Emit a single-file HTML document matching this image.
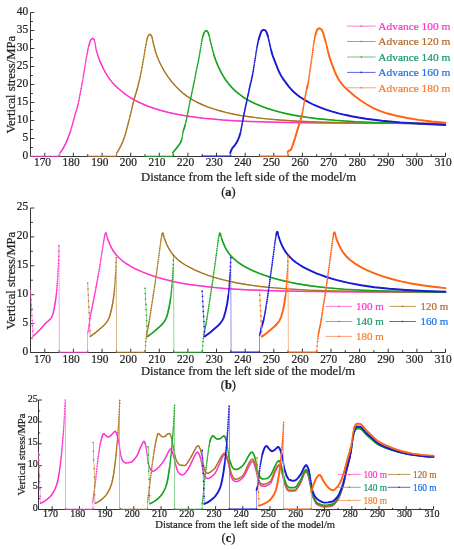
<!DOCTYPE html>
<html lang="en"><head><meta charset="utf-8"><title>Vertical stress figure</title>
<style>html,body{margin:0;padding:0;background:#fff}svg{display:block}</style></head>
<body>
<svg width="454" height="550" viewBox="0 0 454 550" font-family="'Liberation Serif', 'DejaVu Serif', serif">
<style>text{stroke-width:.22px;paint-order:stroke}</style>
<rect width="454" height="550" fill="#fff"/>
<defs>
<clipPath id="ca"><rect x="30.2" y="6.5" width="418" height="150.1"/></clipPath>
<clipPath id="cb"><rect x="30.2" y="202" width="418" height="150.6"/></clipPath>
<clipPath id="cc"><rect x="38.2" y="394" width="398" height="115.6"/></clipPath>
</defs>
<g>
<path d="M30.5,12.5V156.5H445.5M30.5,156.5h3.8M30.5,147.5h2.4M30.5,138.5h3.8M30.5,129.5h2.4M30.5,120.5h3.8M30.5,111.5h2.4M30.5,102.5h3.8M30.5,93.5h2.4M30.5,84.5h3.8M30.5,75.5h2.4M30.5,66.5h3.8M30.5,57.5h2.4M30.5,48.5h3.8M30.5,39.5h2.4M30.5,30.5h3.8M30.5,21.5h2.4M30.5,12.5h3.8M44.8,156.5v-3.8M30.5,156.5v-2.4M73.4,156.5v-3.8M59.1,156.5v-2.4M102.1,156.5v-3.8M87.7,156.5v-2.4M130.7,156.5v-3.8M116.4,156.5v-2.4M159.3,156.5v-3.8M145,156.5v-2.4M187.9,156.5v-3.8M173.6,156.5v-2.4M216.5,156.5v-3.8M202.2,156.5v-2.4M245.2,156.5v-3.8M230.8,156.5v-2.4M273.8,156.5v-3.8M259.5,156.5v-2.4M302.4,156.5v-3.8M288.1,156.5v-2.4M331,156.5v-3.8M316.7,156.5v-2.4M359.6,156.5v-3.8M345.3,156.5v-2.4M388.2,156.5v-3.8M373.9,156.5v-2.4M416.9,156.5v-3.8M402.6,156.5v-2.4M445.5,156.5v-3.8M431.2,156.5v-2.4" fill="none" stroke="#363636" stroke-width="1"/>
<text x="28.1" y="158.5" font-size="11.8" text-anchor="end" fill="#222" stroke="#222" textLength="5.7" lengthAdjust="spacingAndGlyphs">0</text>
<text x="28.1" y="140.5" font-size="11.8" text-anchor="end" fill="#222" stroke="#222" textLength="5.7" lengthAdjust="spacingAndGlyphs">5</text>
<text x="28.1" y="122.5" font-size="11.8" text-anchor="end" fill="#222" stroke="#222" textLength="11.4" lengthAdjust="spacingAndGlyphs">10</text>
<text x="28.1" y="104.5" font-size="11.8" text-anchor="end" fill="#222" stroke="#222" textLength="11.4" lengthAdjust="spacingAndGlyphs">15</text>
<text x="28.1" y="86.5" font-size="11.8" text-anchor="end" fill="#222" stroke="#222" textLength="11.4" lengthAdjust="spacingAndGlyphs">20</text>
<text x="28.1" y="68.5" font-size="11.8" text-anchor="end" fill="#222" stroke="#222" textLength="11.4" lengthAdjust="spacingAndGlyphs">25</text>
<text x="28.1" y="50.5" font-size="11.8" text-anchor="end" fill="#222" stroke="#222" textLength="11.4" lengthAdjust="spacingAndGlyphs">30</text>
<text x="28.1" y="32.5" font-size="11.8" text-anchor="end" fill="#222" stroke="#222" textLength="11.4" lengthAdjust="spacingAndGlyphs">35</text>
<text x="28.1" y="14.5" font-size="11.8" text-anchor="end" fill="#222" stroke="#222" textLength="11.4" lengthAdjust="spacingAndGlyphs">40</text>
<text x="42.5" y="166" font-size="11.8" text-anchor="middle" fill="#222" stroke="#222" textLength="17.1" lengthAdjust="spacingAndGlyphs">170</text>
<text x="71.1" y="166" font-size="11.8" text-anchor="middle" fill="#222" stroke="#222" textLength="17.1" lengthAdjust="spacingAndGlyphs">180</text>
<text x="99.8" y="166" font-size="11.8" text-anchor="middle" fill="#222" stroke="#222" textLength="17.1" lengthAdjust="spacingAndGlyphs">190</text>
<text x="128.4" y="166" font-size="11.8" text-anchor="middle" fill="#222" stroke="#222" textLength="17.1" lengthAdjust="spacingAndGlyphs">200</text>
<text x="157" y="166" font-size="11.8" text-anchor="middle" fill="#222" stroke="#222" textLength="17.1" lengthAdjust="spacingAndGlyphs">210</text>
<text x="185.6" y="166" font-size="11.8" text-anchor="middle" fill="#222" stroke="#222" textLength="17.1" lengthAdjust="spacingAndGlyphs">220</text>
<text x="214.2" y="166" font-size="11.8" text-anchor="middle" fill="#222" stroke="#222" textLength="17.1" lengthAdjust="spacingAndGlyphs">230</text>
<text x="242.8" y="166" font-size="11.8" text-anchor="middle" fill="#222" stroke="#222" textLength="17.1" lengthAdjust="spacingAndGlyphs">240</text>
<text x="271.5" y="166" font-size="11.8" text-anchor="middle" fill="#222" stroke="#222" textLength="17.1" lengthAdjust="spacingAndGlyphs">250</text>
<text x="300.1" y="166" font-size="11.8" text-anchor="middle" fill="#222" stroke="#222" textLength="17.1" lengthAdjust="spacingAndGlyphs">260</text>
<text x="328.7" y="166" font-size="11.8" text-anchor="middle" fill="#222" stroke="#222" textLength="17.1" lengthAdjust="spacingAndGlyphs">270</text>
<text x="357.3" y="166" font-size="11.8" text-anchor="middle" fill="#222" stroke="#222" textLength="17.1" lengthAdjust="spacingAndGlyphs">280</text>
<text x="385.9" y="166" font-size="11.8" text-anchor="middle" fill="#222" stroke="#222" textLength="17.1" lengthAdjust="spacingAndGlyphs">290</text>
<text x="414.6" y="166" font-size="11.8" text-anchor="middle" fill="#222" stroke="#222" textLength="17.1" lengthAdjust="spacingAndGlyphs">300</text>
<text x="443.2" y="166" font-size="11.8" text-anchor="middle" fill="#222" stroke="#222" textLength="17.1" lengthAdjust="spacingAndGlyphs">310</text>
<g clip-path="url(#ca)">
<path d="M30.5,156.5 59.8,156.5 60,152.9 61.1,151.4 62.6,149.3 65.1,144.6 67.1,140.2 69.4,134.2 71.7,127.1 77.2,107.7 78.6,101.8 81.4,87 83.2,77.3 86.3,58.1 88.3,47.7 89.5,43.5 90.6,40.3 90.9,39.8 91.7,38.9 92.6,38.5 93.5,39 94,39.6 94.3,40.2 94.9,42.7 96,49 97.5,54.3 99.8,60.7 102.6,67.2 105.2,72.1 108.6,77.6 111.8,81.9 115.2,85.6 120.1,90 123.5,92.8 126.7,95.2 131.5,98.4 137.3,101.5 143.8,104.6 151.3,107.5 159,109.9 167.6,112.2 175.6,114 184.2,115.6 193.3,117 203.1,118.2 214.2,119.3 225.1,120.1 237.7,120.9 251.2,121.5 281.2,122.4 319,123 368.8,123.3 445.5,123.4" fill="none" stroke="#ff74da" stroke-width="0.7" stroke-linejoin="round"/>
<path d="M30.5,156.5 59.8,156.5M60,152.9 61.1,151.4 62.6,149.3 65.4,144.1 68,138.1 70.6,130.9M89.7,42.6 90.3,41 90.9,39.8 92,38.7 92.6,38.5 93.2,38.7 94,39.6 94.3,40.2M97.8,55.2 100,61.4 103.2,68.4 105.8,73.1 109.5,78.9 112.4,82.6 115.5,85.9 119.5,89.5 125.5,94.3 130.1,97.5 135.2,100.5 141,103.3 147.3,106 153.9,108.3 161,110.5 168.7,112.5 177,114.3 185.3,115.8 193.9,117 203.1,118.2 212.8,119.1 222.8,120 234,120.7 259.2,121.8 288.1,122.6 325,123 373.1,123.3 445.5,123.4" fill="none" stroke="#ff33cc" stroke-width="1.5" stroke-linejoin="round" stroke-linecap="round"/>
<path d="M70.9,130h0M71.1,129.1h0M71.4,128.1h0M71.7,127.1h0M72,126.1h0M72.3,125.1h0M72.6,124.1h0M72.9,123h0M73.1,122h0M73.4,120.9h0M73.7,119.9h0M74,118.8h0M74.3,117.7h0M74.6,116.7h0M74.9,115.6h0M75.1,114.6h0M75.4,113.6h0M75.7,112.6h0M76,111.6h0M76.3,110.7h0M76.6,109.7h0M76.9,108.7h0M77.2,107.7h0M77.4,106.6h0M77.7,105.5h0M78,104.4h0M78.3,103.1h0M78.6,101.8h0M78.9,100.4h0M79.2,99h0M79.4,97.5h0M79.7,96h0M80,94.5h0M80.3,93.1h0M80.6,91.6h0M80.9,90.1h0M81.2,88.6h0M81.4,87h0M81.7,85.5h0M82,83.9h0M82.3,82.3h0M82.6,80.7h0M82.9,79h0M83.2,77.3h0M83.4,75.6h0M83.7,73.9h0M84,72.1h0M84.3,70.4h0M84.6,68.7h0M84.9,66.9h0M85.2,65.1h0M85.5,63.3h0M85.7,61.6h0M86,59.8h0M86.3,58.1h0M86.6,56.5h0M86.9,54.9h0M87.2,53.4h0M87.5,51.9h0M87.7,50.4h0M88,49h0M88.3,47.7h0M88.6,46.5h0M88.9,45.4h0M89.2,44.4h0M89.5,43.5h0M94.6,41.3h0M94.9,42.7h0M95.2,44.3h0M95.5,45.9h0M95.8,47.6h0M96,49h0M96.3,50.2h0M96.6,51.3h0M96.9,52.3h0M97.2,53.3h0M97.5,54.3h0" fill="none" stroke="#ff33cc" stroke-width="1.6" stroke-linecap="round"/>
<path d="M87.7,156.5 116.6,156.5 116.8,152.9 118.2,150.7 119.9,147.6 122.5,142.2 124.2,137.8 126.2,131.1 129.4,119 133.7,101 137.1,89.4 139.4,80.3 141.7,69.1 143.7,58 145.4,47.5 147.1,38.9 147.7,37 148.3,35.9 149.1,34.6 149.7,34.3 150,34.3 150.6,34.7 151.7,36.4 152.3,38.4 153.7,44.9 156,53.2 157.7,58 160,63.2 163.2,69.1 166.9,75.1 170.6,80.4 174.3,84.9 178.3,89 182.9,93.1 187.2,96.4 192.1,99.5 197.5,102.5 203.5,105.2 209.8,107.7 216.7,109.9 223.8,111.9 231.6,113.7 239.9,115.3 248.5,116.7 258.2,118 268.2,119 278.8,120 290.8,120.8 303.4,121.4 316.9,122 348.6,122.8 389,123.2 445.4,123.5" fill="none" stroke="#c29c58" stroke-width="0.7" stroke-linejoin="round"/>
<path d="M87.7,156.5 116.6,156.5M116.8,152.9 118.8,149.7 120.8,146 122.8,141.6 124.2,137.8M147.7,37 148.8,35 149.4,34.4 149.7,34.3 150,34.3 150.6,34.7 151.7,36.4M156.6,54.9 158.6,60 161.4,66 164.3,71.1 168,76.8 171.5,81.5 175.2,85.8 178.9,89.6 183.2,93.4 187.2,96.4 191.8,99.3 196.6,102 201.8,104.5 207.5,106.8 213.5,108.9 219.8,110.8 226.7,112.6 233.9,114.2 241.3,115.6 249.3,116.8 257.9,117.9 266.5,118.9 276.8,119.8 287.1,120.5 298.8,121.2 324,122.2 354.4,122.9 392.7,123.3 445.4,123.5" fill="none" stroke="#a9741c" stroke-width="1.4" stroke-linejoin="round" stroke-linecap="round"/>
<path d="M124.5,137h0M124.8,136.1h0M125.1,135.1h0M125.4,134.2h0M125.7,133.2h0M125.9,132.1h0M126.2,131.1h0M126.5,130h0M126.8,128.9h0M127.1,127.8h0M127.4,126.7h0M127.7,125.6h0M128,124.5h0M128.2,123.4h0M128.5,122.3h0M128.8,121.2h0M129.1,120.1h0M129.4,119h0M129.7,117.8h0M130,116.6h0M130.2,115.4h0M130.5,114.2h0M130.8,113h0M131.1,111.8h0M131.4,110.5h0M131.7,109.3h0M132,108.1h0M132.2,106.8h0M132.5,105.6h0M132.8,104.4h0M133.1,103.3h0M133.4,102.1h0M133.7,101h0M134,99.9h0M134.2,98.8h0M134.5,97.8h0M134.8,96.9h0M135.1,95.9h0M135.4,95h0M135.7,94.1h0M136,93.2h0M136.3,92.3h0M136.5,91.4h0M136.8,90.4h0M137.1,89.4h0M137.4,88.3h0M137.7,87.2h0M138,86.1h0M138.3,85h0M138.5,83.9h0M138.8,82.7h0M139.1,81.5h0M139.4,80.3h0M139.7,79h0M140,77.7h0M140.3,76.4h0M140.5,75h0M140.8,73.6h0M141.1,72.1h0M141.4,70.6h0M141.7,69.1h0M142,67.5h0M142.3,66h0M142.6,64.4h0M142.8,62.8h0M143.1,61.2h0M143.4,59.6h0M143.7,58h0M144,56.2h0M144.3,54.5h0M144.6,52.7h0M144.8,50.9h0M145.1,49.2h0M145.4,47.5h0M145.7,46h0M146,44.6h0M146.3,43.1h0M146.6,41.6h0M146.8,40.2h0M147.1,38.9h0M147.4,37.9h0M152,37.3h0M152.3,38.4h0M152.6,39.7h0M152.9,41h0M153.1,42.4h0M153.4,43.7h0M153.7,44.9h0M154,46h0M154.3,47h0M154.6,48.1h0M154.9,49.2h0M155.1,50.2h0M155.4,51.2h0M155.7,52.2h0M156,53.2h0M156.3,54.1h0" fill="none" stroke="#a9741c" stroke-width="1.6" stroke-linecap="round"/>
<path d="M145,156.5 172.6,156.5 172.7,152.9 173.9,151.2 176.2,148.6 178.8,145.3 180.5,142.6 181.6,139.9 183,132 185.3,124.3 187.1,116.5 189.9,101.8 194.5,80.5 196.5,69.7 198.5,60.4 202.2,38.9 203.1,35.7 203.9,33.2 205.1,31.5 205.7,30.9 206.2,30.6 206.8,30.8 207.4,31.4 208.2,32.8 208.5,33.5 212,47.5 213.7,53.9 215.1,58.7 216.5,62.5 218.5,67.2 221.4,72.9 224,77.3 226.6,81.2 229.7,85.2 233.4,89.2 237.1,92.6 241.2,95.7 245.4,98.5 250.6,101.4 255.7,103.9 261.5,106.3 267.8,108.6 274.6,110.7 281.8,112.6 289.5,114.3 297.8,115.9 306.7,117.3 316.1,118.5 326.2,119.6 336.5,120.5 347.9,121.2 373.7,122.5 405.2,123.4 445.2,124" fill="none" stroke="#62c668" stroke-width="0.7" stroke-linejoin="round"/>
<path d="M145,156.5 172.6,156.5M172.7,152.9 173.9,151.2 176.2,148.6 179.3,144.5 180.5,142.6 181.6,139.9M183.6,129.9 184.8,126.4M203.1,35.7 203.7,33.9 204.2,32.6 205.4,31.1 206.2,30.6 206.5,30.7 207.1,31.1 207.9,32.2 208.2,32.8 208.8,34.5M214.2,55.9 216,61 218,65.9 220.5,71.2 223.4,76.4 225.7,80 228.6,83.8 231.7,87.4 234.9,90.6 238.6,93.7 242.6,96.7 246.9,99.4 251.2,101.7 256,104 261.5,106.3 267.2,108.4 273.2,110.3 279.5,112 286.1,113.6 293.2,115.1 300.7,116.4 308.4,117.5 316.7,118.6 335,120.3 355.6,121.7 380,122.7 408.9,123.5 445.2,124" fill="none" stroke="#17a31d" stroke-width="1.65" stroke-linejoin="round" stroke-linecap="round"/>
<path d="M181.9,138.7h0M182.2,137.1h0M182.5,135.3h0M182.8,133.5h0M183,132h0M183.3,130.9h0M185,125.4h0M185.3,124.3h0M185.6,123.1h0M185.9,121.8h0M186.2,120.6h0M186.5,119.2h0M186.8,117.9h0M187.1,116.5h0M187.3,115.1h0M187.6,113.8h0M187.9,112.3h0M188.2,110.9h0M188.5,109.4h0M188.8,107.9h0M189.1,106.3h0M189.3,104.7h0M189.6,103.2h0M189.9,101.8h0M190.2,100.4h0M190.5,99.1h0M190.8,97.8h0M191.1,96.6h0M191.3,95.2h0M191.6,93.9h0M191.9,92.5h0M192.2,91.1h0M192.5,89.7h0M192.8,88.3h0M193.1,87h0M193.4,85.7h0M193.6,84.4h0M193.9,83.1h0M194.2,81.8h0M194.5,80.5h0M194.8,79.1h0M195.1,77.6h0M195.4,76.1h0M195.6,74.4h0M195.9,72.8h0M196.2,71.2h0M196.5,69.7h0M196.8,68.3h0M197.1,67h0M197.4,65.8h0M197.6,64.5h0M197.9,63.2h0M198.2,61.8h0M198.5,60.4h0M198.8,58.9h0M199.1,57.3h0M199.4,55.8h0M199.6,54.2h0M199.9,52.6h0M200.2,50.9h0M200.5,49.1h0M200.8,47.2h0M201.1,45.3h0M201.4,43.5h0M201.7,41.7h0M201.9,40.2h0M202.2,38.9h0M202.5,37.8h0M202.8,36.7h0M209.1,35.6h0M209.4,36.8h0M209.7,38h0M210,39.3h0M210.2,40.4h0M210.5,41.5h0M210.8,42.7h0M211.1,43.9h0M211.4,45.1h0M211.7,46.3h0M212,47.5h0M212.2,48.6h0M212.5,49.7h0M212.8,50.7h0M213.1,51.8h0M213.4,52.9h0M213.7,53.9h0M214,54.9h0" fill="none" stroke="#17a31d" stroke-width="1.6" stroke-linecap="round"/>
<path d="M202.2,156.5 230.1,156.5 230.3,152.9 231.4,149.9 232.6,147.9 235.1,144.8 237.4,141.1 238.9,137.9 240.3,133.2 240.9,130.7 244.6,111.2 249.4,88.4 252.3,75.9 253.5,69.4 256.9,47.8 258,42.1 259.5,36.6 261.2,31.8 261.5,31.3 262,30.7 262.9,30.1 263.5,29.9 264.3,30 265.5,30.5 266.1,31.2 266.6,32.4 268.1,36.6 271.2,50.4 272.9,56.3 274.6,61 278.4,70.3 279.8,73.4 281.8,76.9 284.4,80.6 288.7,86.4 291,89.1 293.5,91.7 297,94.7 300.4,97.3 304.7,100 309,102.4 314.1,104.9 319.6,107.2 325.3,109.3 331.6,111.3 338.2,113.2 345.1,114.9 352.5,116.4 360.2,117.8 368.5,119.1 377.4,120.2 387.1,121.3 396.6,122.1 418.9,123.7 445.3,125" fill="none" stroke="#6262e8" stroke-width="0.7" stroke-linejoin="round"/>
<path d="M202.2,156.5 230.1,156.5M230.3,152.9 231.4,149.9 232,148.8 232.8,147.6 235.1,144.8 236.6,142.6 237.7,140.5 239.1,137.1 240.3,133.2M258.6,39.7 259.5,36.6 261.2,31.8 261.8,30.9 262.6,30.2 263.2,30 263.8,29.9 264.3,30 265.2,30.4 265.8,30.8 266.6,32.4 268.1,36.6M271.2,50.4 272.3,54.5 273.8,58.7 277.5,68.2 279.5,72.8 280.9,75.4 282.9,78.6 286.4,83.4 289.2,87.1 291.5,89.7 294.1,92.2 297.3,94.9 300.4,97.3 304.4,99.8 308.1,101.9 312.1,104 316.4,105.9 321.3,107.9 326.7,109.8 332.5,111.6 338.5,113.3 344.8,114.8 351.4,116.2 358.5,117.5 366,118.7 382,120.7 400,122.4 420.9,123.8 445.3,125" fill="none" stroke="#1a1ad6" stroke-width="1.9" stroke-linejoin="round" stroke-linecap="round"/>
<path d="M240.6,132h0M240.9,130.7h0M241.1,129.2h0M241.4,127.7h0M241.7,126.1h0M242,124.6h0M242.3,123.1h0M242.6,121.5h0M242.9,119.9h0M243.1,118.4h0M243.4,116.9h0M243.7,115.4h0M244,113.9h0M244.3,112.5h0M244.6,111.2h0M244.9,109.8h0M245.2,108.5h0M245.4,107.2h0M245.7,105.8h0M246,104.5h0M246.3,103.2h0M246.6,101.9h0M246.9,100.6h0M247.2,99.3h0M247.4,98h0M247.7,96.6h0M248,95.2h0M248.3,93.9h0M248.6,92.5h0M248.9,91.1h0M249.2,89.8h0M249.4,88.4h0M249.7,87.2h0M250,85.9h0M250.3,84.7h0M250.6,83.5h0M250.9,82.3h0M251.2,81.1h0M251.5,79.9h0M251.7,78.6h0M252,77.3h0M252.3,75.9h0M252.6,74.4h0M252.9,72.8h0M253.2,71.2h0M253.5,69.4h0M253.7,67.6h0M254,65.8h0M254.3,64h0M254.6,62.1h0M254.9,60.3h0M255.2,58.5h0M255.5,56.8h0M255.7,55h0M256,53.1h0M256.3,51.3h0M256.6,49.5h0M256.9,47.8h0M257.2,46.2h0M257.5,44.7h0M257.7,43.4h0M258,42.1h0M258.3,40.9h0M268.3,37.8h0M268.6,39h0M268.9,40.4h0M269.2,41.8h0M269.5,43.2h0M269.8,44.4h0M270.1,45.6h0M270.3,46.8h0M270.6,48.1h0M270.9,49.2h0" fill="none" stroke="#1a1ad6" stroke-width="1.7" stroke-linecap="round"/>
<path d="M259.5,156.5 287.5,156.5 287.7,152.9 287.9,151.5 288.5,151 290.5,150.2 291.1,149.4 293.1,144.1 294.8,138.9 298,128.1 300.5,120.4 302,114.9 302.8,110.8 304.5,100.3 306,92.6 308,83.7 308.5,80.7 310.5,67.1 313.7,44 314.8,37.4 315.7,33.9 316.8,30.4 317.4,29.4 318.3,28.7 318.8,28.4 319.4,28.4 320,28.5 320.8,29 321.4,29.5 322.3,31 323.4,33.7 325.1,39.7 328.9,54.9 330.3,59.7 331.7,63.8 334.3,70.4 336,74.4 337.7,77.8 339.2,80.2 340.9,82.8 342.6,85 344.3,86.9 346,88.6 353.5,95 357.2,98 361.2,100.9 364.9,103.3 368.9,105.7 372.7,107.7 376.1,109.4 380.1,111.1 383.5,112.3 387.5,113.5 393.5,115.1 399.8,116.6 406.4,117.9 413.3,119.1 420.4,120.2 428.2,121.1 445.3,122.8" fill="none" stroke="#ff9860" stroke-width="0.7" stroke-linejoin="round"/>
<path d="M259.5,156.5 287.5,156.5M287.9,151.5 288.5,151 290.5,150.2 291.1,149.4 291.7,148.1 294.8,138.9 298,128.1 300.2,121.3 301.7,116.1M306.8,88.5 307.7,85M315.4,34.9 316.6,31.1 317.1,29.8 317.4,29.4 318.3,28.7 319.1,28.3 320,28.5 321.1,29.2 322,30.4 323.4,33.7 325.7,41.9M326.9,46.7 327.4,49.1M328.3,52.6 329.4,56.9 330.9,61.4 334.9,71.8 336.3,75 337.7,77.8 339.5,80.7 341.2,83.2 343.2,85.7 345.2,87.8 354.3,95.8 360.3,100.3 366.9,104.5 373.8,108.3 380.4,111.2 386.7,113.3 396.4,115.8 407,118 418.7,119.9 431.6,121.5 445.3,122.8" fill="none" stroke="#ff6414" stroke-width="1.95" stroke-linejoin="round" stroke-linecap="round"/>
<path d="M287.7,152.9h0M302,114.9h0M302.2,113.7h0M302.5,112.3h0M302.8,110.8h0M303.1,109.2h0M303.4,107.4h0M303.7,105.6h0M304,103.8h0M304.3,102h0M304.5,100.3h0M304.8,98.7h0M305.1,97.1h0M305.4,95.6h0M305.7,94h0M306,92.6h0M306.3,91.1h0M306.5,89.7h0M308,83.7h0M308.3,82.3h0M308.5,80.7h0M308.8,79h0M309.1,77.1h0M309.4,75.2h0M309.7,73.1h0M310,71.1h0M310.3,69.1h0M310.5,67.1h0M310.8,65h0M311.1,62.9h0M311.4,60.8h0M311.7,58.7h0M312,56.5h0M312.3,54.4h0M312.6,52.3h0M312.8,50.2h0M313.1,48.1h0M313.4,46h0M313.7,44h0M314,42.2h0M314.3,40.5h0M314.6,38.9h0M314.8,37.4h0M315.1,36.1h0M326,43.1h0M326.3,44.3h0M326.6,45.5h0M327.7,50.2h0M328,51.4h0" fill="none" stroke="#ff6414" stroke-width="1.75" stroke-linecap="round"/>
</g>
<text x="141" y="181.3" font-size="11.8" text-anchor="start" fill="#222" stroke="#222" textLength="215" lengthAdjust="spacingAndGlyphs">Distance from the left side of the model/m</text>
<text transform="translate(14.9,133.6) rotate(-90)" font-size="11.8" fill="#222" stroke="#222" textLength="97.6" lengthAdjust="spacingAndGlyphs">Vertical stress/MPa</text>
<text x="228.4" y="196" font-size="12.4" text-anchor="middle" fill="#222" stroke="#222">(<tspan font-weight="bold">a</tspan>)</text>
<path d="M347.1,26.1H375.6" stroke="#ff5cc4" stroke-width=".8"/>
<path d="M361.3,26.1h0" stroke="#ff33cc" stroke-width="1.6" stroke-linecap="round"/>
<text x="378.3" y="29.8" font-size="11" text-anchor="start" fill="#ff33cc" stroke="#ff33cc" textLength="72.1" lengthAdjust="spacingAndGlyphs">Advance 100 m</text>
<path d="M347.1,41.5H375.6" stroke="#a8842f" stroke-width=".8"/>
<path d="M361.3,41.5h0" stroke="#a9741c" stroke-width="1.6" stroke-linecap="round"/>
<text x="378.3" y="45.2" font-size="11" text-anchor="start" fill="#b56a2c" stroke="#b56a2c" textLength="72.1" lengthAdjust="spacingAndGlyphs">Advance 120 m</text>
<path d="M347.1,57H375.6" stroke="#4fb455" stroke-width=".8"/>
<path d="M361.3,57h0" stroke="#17a31d" stroke-width="1.6" stroke-linecap="round"/>
<text x="378.3" y="60.7" font-size="11" text-anchor="start" fill="#189a6c" stroke="#189a6c" textLength="72.1" lengthAdjust="spacingAndGlyphs">Advance 140 m</text>
<path d="M347.1,72.4H375.6" stroke="#3a3ade" stroke-width=".8"/>
<path d="M361.3,72.4h0" stroke="#1a1ad6" stroke-width="1.6" stroke-linecap="round"/>
<text x="378.3" y="76.1" font-size="11" text-anchor="start" fill="#1b74e8" stroke="#1b74e8" textLength="72.1" lengthAdjust="spacingAndGlyphs">Advance 160 m</text>
<path d="M347.1,87.8H375.6" stroke="#ff8650" stroke-width=".8"/>
<path d="M361.3,87.8h0" stroke="#ff6414" stroke-width="1.6" stroke-linecap="round"/>
<text x="378.3" y="91.5" font-size="11" text-anchor="start" fill="#ff7a22" stroke="#ff7a22" textLength="72.1" lengthAdjust="spacingAndGlyphs">Advance 180 m</text>
</g>
<g>
<path d="M30.5,208V352.5H445.5M30.5,352.5h3.8M30.5,338.1h2.4M30.5,323.6h3.8M30.5,309.1h2.4M30.5,294.7h3.8M30.5,280.2h2.4M30.5,265.8h3.8M30.5,251.3h2.4M30.5,236.9h3.8M30.5,222.4h2.4M30.5,208h3.8M44.8,352.5v-3.8M30.5,352.5v-2.4M73.4,352.5v-3.8M59.1,352.5v-2.4M102.1,352.5v-3.8M87.7,352.5v-2.4M130.7,352.5v-3.8M116.4,352.5v-2.4M159.3,352.5v-3.8M145,352.5v-2.4M187.9,352.5v-3.8M173.6,352.5v-2.4M216.5,352.5v-3.8M202.2,352.5v-2.4M245.2,352.5v-3.8M230.8,352.5v-2.4M273.8,352.5v-3.8M259.5,352.5v-2.4M302.4,352.5v-3.8M288.1,352.5v-2.4M331,352.5v-3.8M316.7,352.5v-2.4M359.6,352.5v-3.8M345.3,352.5v-2.4M388.2,352.5v-3.8M373.9,352.5v-2.4M416.9,352.5v-3.8M402.6,352.5v-2.4M445.5,352.5v-3.8M431.2,352.5v-2.4" fill="none" stroke="#363636" stroke-width="1"/>
<text x="28.1" y="354.5" font-size="11.8" text-anchor="end" fill="#222" stroke="#222" textLength="5.7" lengthAdjust="spacingAndGlyphs">0</text>
<text x="28.1" y="325.6" font-size="11.8" text-anchor="end" fill="#222" stroke="#222" textLength="5.7" lengthAdjust="spacingAndGlyphs">5</text>
<text x="28.1" y="296.7" font-size="11.8" text-anchor="end" fill="#222" stroke="#222" textLength="11.4" lengthAdjust="spacingAndGlyphs">10</text>
<text x="28.1" y="267.8" font-size="11.8" text-anchor="end" fill="#222" stroke="#222" textLength="11.4" lengthAdjust="spacingAndGlyphs">15</text>
<text x="28.1" y="238.9" font-size="11.8" text-anchor="end" fill="#222" stroke="#222" textLength="11.4" lengthAdjust="spacingAndGlyphs">20</text>
<text x="28.1" y="210" font-size="11.8" text-anchor="end" fill="#222" stroke="#222" textLength="11.4" lengthAdjust="spacingAndGlyphs">25</text>
<text x="42.5" y="363" font-size="11.8" text-anchor="middle" fill="#222" stroke="#222" textLength="17.1" lengthAdjust="spacingAndGlyphs">170</text>
<text x="71.1" y="363" font-size="11.8" text-anchor="middle" fill="#222" stroke="#222" textLength="17.1" lengthAdjust="spacingAndGlyphs">180</text>
<text x="99.8" y="363" font-size="11.8" text-anchor="middle" fill="#222" stroke="#222" textLength="17.1" lengthAdjust="spacingAndGlyphs">190</text>
<text x="128.4" y="363" font-size="11.8" text-anchor="middle" fill="#222" stroke="#222" textLength="17.1" lengthAdjust="spacingAndGlyphs">200</text>
<text x="157" y="363" font-size="11.8" text-anchor="middle" fill="#222" stroke="#222" textLength="17.1" lengthAdjust="spacingAndGlyphs">210</text>
<text x="185.6" y="363" font-size="11.8" text-anchor="middle" fill="#222" stroke="#222" textLength="17.1" lengthAdjust="spacingAndGlyphs">220</text>
<text x="214.2" y="363" font-size="11.8" text-anchor="middle" fill="#222" stroke="#222" textLength="17.1" lengthAdjust="spacingAndGlyphs">230</text>
<text x="242.8" y="363" font-size="11.8" text-anchor="middle" fill="#222" stroke="#222" textLength="17.1" lengthAdjust="spacingAndGlyphs">240</text>
<text x="271.5" y="363" font-size="11.8" text-anchor="middle" fill="#222" stroke="#222" textLength="17.1" lengthAdjust="spacingAndGlyphs">250</text>
<text x="300.1" y="363" font-size="11.8" text-anchor="middle" fill="#222" stroke="#222" textLength="17.1" lengthAdjust="spacingAndGlyphs">260</text>
<text x="328.7" y="363" font-size="11.8" text-anchor="middle" fill="#222" stroke="#222" textLength="17.1" lengthAdjust="spacingAndGlyphs">270</text>
<text x="357.3" y="363" font-size="11.8" text-anchor="middle" fill="#222" stroke="#222" textLength="17.1" lengthAdjust="spacingAndGlyphs">280</text>
<text x="385.9" y="363" font-size="11.8" text-anchor="middle" fill="#222" stroke="#222" textLength="17.1" lengthAdjust="spacingAndGlyphs">290</text>
<text x="414.6" y="363" font-size="11.8" text-anchor="middle" fill="#222" stroke="#222" textLength="17.1" lengthAdjust="spacingAndGlyphs">300</text>
<text x="443.2" y="363" font-size="11.8" text-anchor="middle" fill="#222" stroke="#222" textLength="17.1" lengthAdjust="spacingAndGlyphs">310</text>
<g clip-path="url(#cb)">
<path d="M30.5,289.5 33,336.3 36.3,333.2 39.9,329.7 46.1,322.7 50,319.4 51.6,317.4 52.1,316.3 53,313.7 54.1,308.9 55.4,301.4 56.4,293.5 57.4,281.3 58.3,266.2 58.7,256.4 59,245.6 59.4,352.5 87.5,352.5 87.5,332.3 88.3,330.2 90.9,313.3 94.3,296.4 98,276.5 99.8,266.4 104.1,238.9 105.2,234 105.5,233.2 105.8,232.9 106.1,233.2 106.3,233.9 107.5,238.5 109.8,244.3 111.8,248.5 113.8,251.7 116.4,255.1 119.2,258.1 122.7,261.1 126.7,263.9 131.8,266.9 137.8,269.9 144.7,272.9 151.8,275.5 159.3,277.8 167.3,280 175.9,282 184.8,283.7 192.8,285 201.4,286.1 210.2,287.1 220,288 230.3,288.8 241.4,289.5 266.6,290.6 295.2,291.3 331,291.7 377.4,292 445.5,292.1" fill="none" stroke="#ff74da" stroke-width="0.7" stroke-linejoin="round"/>
<path d="M33,336.3 36.3,333.2 39.9,329.7 46.1,322.7 50,319.4 51.4,317.6 52.3,315.9 53.3,312.6 54.3,308.2 55.1,303.3M59.4,352.5 87.7,352.5M105.2,234 105.5,233.2 105.8,232.9 106.1,233.2 106.3,233.9M107.5,238.5 109.8,244.3 111.5,247.9 113.5,251.3 116.1,254.8 118.9,257.8 122.4,260.8 126.1,263.5 130.7,266.3 136.4,269.3 142.7,272.1 149.6,274.7 156.7,277.1 164.2,279.2 172.2,281.2 180.5,282.9 189.3,284.4 197.4,285.6 205.7,286.6 214.5,287.6 224.3,288.4 245.4,289.7 270.3,290.7 298.7,291.3 333.9,291.7 379.4,292 445.5,292.1" fill="none" stroke="#ff33cc" stroke-width="1.5" stroke-linejoin="round" stroke-linecap="round"/>
<path d="M30.5,289.5h0M30.8,294.7h0M31.1,299.9h0M31.3,305.1h0M31.6,310.3h0M31.9,315.5h0M32.2,320.7h0M32.4,325.9h0M32.7,331.1h0M55.3,302.4h0M55.4,301.4h0M55.6,300.4h0M55.7,299.4h0M55.9,298.3h0M56,297.2h0M56.1,296h0M56.3,294.8h0M56.4,293.5h0M56.6,292.1h0M56.7,290.6h0M56.9,289h0M57,287.2h0M57.1,285.4h0M57.3,283.4h0M57.4,281.3h0M57.6,279h0M57.7,276.4h0M57.9,273.8h0M58,271.2h0M58.1,268.7h0M58.3,266.2h0M58.4,263.5h0M58.6,260.4h0M58.7,256.4h0M58.9,251.3h0M59,245.6h0M88,332.3h0M88.3,330.2h0M88.6,328.1h0M88.9,326.1h0M89.2,324.2h0M89.5,322.2h0M89.7,320.3h0M90,318.4h0M90.3,316.6h0M90.6,314.9h0M90.9,313.3h0M91.2,311.8h0M91.5,310.3h0M91.7,308.9h0M92,307.5h0M92.3,306.1h0M92.6,304.8h0M92.9,303.4h0M93.2,302.1h0M93.5,300.7h0M93.8,299.3h0M94,297.9h0M94.3,296.4h0M94.6,294.9h0M94.9,293.5h0M95.2,292h0M95.5,290.5h0M95.8,288.9h0M96,287.4h0M96.3,285.9h0M96.6,284.4h0M96.9,282.8h0M97.2,281.2h0M97.5,279.7h0M97.8,278.1h0M98,276.5h0M98.3,274.8h0M98.6,273.2h0M98.9,271.5h0M99.2,269.8h0M99.5,268.1h0M99.8,266.4h0M100,264.5h0M100.3,262.7h0M100.6,260.8h0M100.9,258.9h0M101.2,257.1h0M101.5,255.2h0M101.8,253.3h0M102.1,251.5h0M102.3,249.7h0M102.6,247.9h0M102.9,246.1h0M103.2,244.2h0M103.5,242.4h0M103.8,240.6h0M104.1,238.9h0M104.3,237.5h0M104.6,236.3h0M104.9,235.1h0M106.6,235h0M106.9,236.3h0M107.2,237.5h0" fill="none" stroke="#ff33cc" stroke-width="1.6" stroke-linecap="round"/>
<path d="M87.7,283.1 90.2,336.6 95.5,332.6 102.5,326.7 104.5,324.8 106.2,322.8 107.5,320.9 108.7,318.8 109.5,316.6 110.5,313.2 112.2,305.8 113.7,296.9 114.7,287.1 115.8,270 116.2,257.7 116.6,352.5 145,352.5 145.2,350.8 145.8,341.6 146.4,336.3 149.5,319.5 153.8,291.6 156.7,272.1 161.3,238.2 161.9,235.2 162.4,233.2 162.7,232.9 163,233.1 163.3,233.9 164.4,238.5 165.9,242.3 167.9,246.8 170.2,250.9 172.5,254.1 175,257 178.2,259.9 181.6,262.6 186.2,265.5 191.3,268.3 197.4,271.1 203.7,273.7 210.2,276 217.4,278.2 224.8,280.2 232.8,282 240.3,283.5 248,284.8 256,285.9 264.6,286.9 273.8,287.9 283.5,288.6 305.3,289.9 329.9,290.9 359.3,291.5 396.3,291.9 445.5,292.1" fill="none" stroke="#c29c58" stroke-width="0.7" stroke-linejoin="round"/>
<path d="M90.2,336.6 95.5,332.6 102.5,326.7 105.1,324.1 107.1,321.6 108.5,319.1 109.7,316.2 111.4,309.8 112.8,302.7M116.6,352.5 145,352.5M162.4,233.2 162.7,232.9 163,233.1 163.3,233.9M164.4,238.5 166.7,244.3 168.2,247.4 170.2,250.9 172.5,254.1 175,257 177.9,259.7 181.3,262.4 185.3,265 190.2,267.7 195.6,270.4 201.6,272.9 208.2,275.4 215.1,277.6 222.3,279.6 229.7,281.4 237.4,283 244.6,284.2 252.3,285.4 260.3,286.5 268.9,287.4 287.5,288.9 308.7,290.1 333,290.9 361.9,291.5 397.7,291.9 445.5,292.1" fill="none" stroke="#a9741c" stroke-width="1.4" stroke-linejoin="round" stroke-linecap="round"/>
<path d="M87.7,283.1h0M88,289.1h0M88.3,295h0M88.6,301h0M88.8,306.9h0M89.1,312.8h0M89.4,318.8h0M89.7,324.7h0M90,330.7h0M113,301.8h0M113.1,301h0M113.2,300h0M113.4,299h0M113.5,298h0M113.7,296.9h0M113.8,295.8h0M114,294.6h0M114.1,293.3h0M114.2,291.8h0M114.4,290.3h0M114.5,288.7h0M114.7,287.1h0M114.8,285.2h0M115,283.2h0M115.1,281.1h0M115.2,278.9h0M115.4,276.9h0M115.5,274.9h0M115.7,272.6h0M115.8,270h0M116,266.7h0M116.1,262.5h0M116.2,257.7h0M145.2,350.8h0M145.5,345.8h0M145.8,341.6h0M146.1,338.5h0M146.4,336.3h0M146.6,334.5h0M146.9,332.9h0M147.2,331.4h0M147.5,329.9h0M147.8,328.5h0M148.1,327.2h0M148.4,325.9h0M148.7,324.4h0M148.9,322.9h0M149.2,321.2h0M149.5,319.5h0M149.8,317.8h0M150.1,316h0M150.4,314.1h0M150.7,312.3h0M150.9,310.4h0M151.2,308.5h0M151.5,306.6h0M151.8,304.7h0M152.1,302.8h0M152.4,301h0M152.7,299.1h0M153,297.2h0M153.2,295.4h0M153.5,293.5h0M153.8,291.6h0M154.1,289.7h0M154.4,287.8h0M154.7,285.9h0M155,284h0M155.3,282.1h0M155.5,280.1h0M155.8,278.1h0M156.1,276.1h0M156.4,274.1h0M156.7,272.1h0M157,270h0M157.3,267.9h0M157.5,265.8h0M157.8,263.7h0M158.1,261.6h0M158.4,259.5h0M158.7,257.3h0M159,255.2h0M159.3,253h0M159.6,250.7h0M159.8,248.4h0M160.1,246.2h0M160.4,244h0M160.7,242h0M161,240.1h0M161.3,238.2h0M161.6,236.5h0M161.9,235.2h0M162.1,234.1h0M163.6,235h0M163.9,236.3h0M164.1,237.5h0" fill="none" stroke="#a9741c" stroke-width="1.6" stroke-linecap="round"/>
<path d="M145,288.3 147.5,336.6 150.9,334.1 154.6,331.1 160.2,326.3 162.6,323.8 163.9,322.2 164.9,320.7 165.8,319.1 166.6,317.1 168.6,309.5 170.2,301.3 171.2,293.7 172.1,284 173.1,268.2 173.5,255.4 173.9,352.5 202.2,352.5 202.4,350.8 203,341.6 203.6,336.3 206.8,319.5 211.6,288 213.9,272.3 218.5,238.5 219.1,235.5 219.7,233.5 220,233.1 220.2,233.4 220.5,234.2 221.7,238.8 222.8,241.9 224.8,246.5 226.5,249.8 228.6,252.9 230.8,255.8 233.4,258.4 236.6,261.2 240.3,263.8 244.6,266.5 249.4,269 254.6,271.4 260.3,273.8 266.3,275.9 272.6,277.9 279.2,279.8 285.8,281.4 292.4,282.8 299.5,284.1 307,285.3 314.7,286.4 323,287.3 340.7,288.9 360.8,290.1 384,291 411.4,291.7 445.5,292.1" fill="none" stroke="#62c668" stroke-width="0.7" stroke-linejoin="round"/>
<path d="M147.5,336.6 152.8,332.6 160,326.4 162.8,323.6 164.8,320.9 166.5,317.4 167.8,313 169.3,306.2 170.5,299.4M173.9,352.5 202.2,352.5M219.4,234.4 219.7,233.5 220,233.1 220.2,233.4 220.5,234.2M221.7,238.8 222.8,241.9 225.1,247.1 226.8,250.3 228.8,253.3 231.1,256.1 233.7,258.7 236.6,261.2 239.7,263.5 243.7,266 248.3,268.5 253.4,270.9 258.9,273.2 264.6,275.3 270.9,277.4 277.2,279.2 283.8,280.9 290.1,282.3 296.7,283.6 310.7,285.9 326.4,287.7 343.9,289.2 363.4,290.3 386,291.1 412.6,291.7 445.5,292.1" fill="none" stroke="#17a31d" stroke-width="1.65" stroke-linejoin="round" stroke-linecap="round"/>
<path d="M145,288.3h0M145.3,293.7h0M145.5,299.1h0M145.8,304.4h0M146.1,309.8h0M146.4,315.2h0M146.6,320.5h0M146.9,325.9h0M147.2,331.2h0M170.6,298.3h0M170.8,297.3h0M170.9,296.2h0M171.1,295h0M171.2,293.7h0M171.3,292.3h0M171.5,290.9h0M171.6,289.3h0M171.8,287.6h0M171.9,285.9h0M172.1,284h0M172.2,281.9h0M172.3,279.7h0M172.5,277.5h0M172.6,275.3h0M172.8,273.2h0M172.9,270.9h0M173.1,268.2h0M173.2,264.7h0M173.3,260.3h0M173.5,255.4h0M202.4,350.8h0M202.7,345.8h0M203,341.6h0M203.3,338.5h0M203.6,336.3h0M203.9,334.5h0M204.2,332.9h0M204.5,331.4h0M204.7,329.9h0M205,328.5h0M205.3,327.2h0M205.6,325.9h0M205.9,324.4h0M206.2,322.9h0M206.5,321.2h0M206.8,319.5h0M207,317.8h0M207.3,316h0M207.6,314.1h0M207.9,312.3h0M208.2,310.4h0M208.5,308.5h0M208.8,306.6h0M209,304.7h0M209.3,302.8h0M209.6,301h0M209.9,299.1h0M210.2,297.3h0M210.5,295.4h0M210.8,293.6h0M211.1,291.7h0M211.3,289.8h0M211.6,288h0M211.9,286.1h0M212.2,284.2h0M212.5,282.2h0M212.8,280.3h0M213.1,278.3h0M213.4,276.3h0M213.6,274.3h0M213.9,272.3h0M214.2,270.2h0M214.5,268.1h0M214.8,266h0M215.1,263.9h0M215.4,261.8h0M215.7,259.7h0M215.9,257.6h0M216.2,255.4h0M216.5,253.2h0M216.8,250.9h0M217.1,248.7h0M217.4,246.4h0M217.7,244.3h0M217.9,242.3h0M218.2,240.4h0M218.5,238.5h0M218.8,236.8h0M219.1,235.5h0M220.8,235.3h0M221.1,236.5h0M221.4,237.8h0" fill="none" stroke="#17a31d" stroke-width="1.6" stroke-linecap="round"/>
<path d="M202.2,291.2 204.7,336.6 208.3,334 212,331 217.4,326.3 220,323.6 221.1,322.2 222.1,320.7 223,319.1 223.9,317.1 225.9,309.8 227.4,301.8 228.4,294.6 229.3,285.2 230.3,270 230.7,257.7 231.1,352.5 259.5,352.5 259.5,335 260,333.6 261.5,327.5 263.5,320.4 264.3,316.5 265.5,310.2 268.6,289.8 275.2,240.8 276.3,234 276.9,232.1 277.2,231.7 277.5,232 277.8,232.8 278.9,237.5 279.8,240 281.5,244.3 282.9,247.3 284.6,250.4 286.4,252.9 288.7,255.8 290.9,258.2 293.5,260.5 296.7,262.9 300.1,265.2 303.8,267.4 308.1,269.6 312.7,271.8 317.6,273.8 322.7,275.7 328.1,277.6 333.6,279.2 339.3,280.8 345.3,282.2 357.9,284.7 371.9,286.9 387.1,288.6 404.3,289.9 423.5,291 445.5,291.8" fill="none" stroke="#6262e8" stroke-width="0.7" stroke-linejoin="round"/>
<path d="M204.7,336.6 210.1,332.5 217.4,326.3 220.1,323.5 222.1,320.7 223,319.1 223.9,317.1 225.6,311 227.2,303.5 228.3,295.8M231.1,352.5 259.5,352.5M261.2,328.6 263.5,320.4M276.3,234 276.9,232.1 277.2,231.7 277.5,232 278.1,234M278.6,236.5 279.8,240 281.5,244.3 282.9,247.3 284.6,250.4 286.4,252.9 288.4,255.5 290.7,257.9 293.2,260.2 296.1,262.5 299.5,264.8 303.2,267.1 307.3,269.2 311.5,271.2 316.4,273.3 321.3,275.2 326.4,277 331.6,278.6 337,280.2 348.5,282.9 361.1,285.3 374.5,287.2 389.4,288.8 405.7,290 424.3,291 445.5,291.8" fill="none" stroke="#1a1ad6" stroke-width="1.9" stroke-linejoin="round" stroke-linecap="round"/>
<path d="M202.2,291.2h0M202.5,296.3h0M202.8,301.3h0M203,306.4h0M203.3,311.4h0M203.6,316.4h0M203.9,321.5h0M204.2,326.5h0M204.4,331.6h0M228.4,294.6h0M228.6,293.3h0M228.7,291.8h0M228.9,290.3h0M229,288.7h0M229.2,287.1h0M229.3,285.2h0M229.4,283.2h0M229.6,281.1h0M229.7,278.9h0M229.9,276.9h0M230,274.9h0M230.2,272.6h0M230.3,270h0M230.4,266.7h0M230.6,262.5h0M230.7,257.7h0M259.7,335h0M260,333.6h0M260.3,332.3h0M260.6,331h0M260.9,329.8h0M263.8,319.2h0M264,317.9h0M264.3,316.5h0M264.6,315.1h0M264.9,313.5h0M265.2,311.9h0M265.5,310.2h0M265.8,308.5h0M266,306.8h0M266.3,305h0M266.6,303.2h0M266.9,301.3h0M267.2,299.5h0M267.5,297.6h0M267.8,295.8h0M268,293.8h0M268.3,291.8h0M268.6,289.8h0M268.9,287.7h0M269.2,285.6h0M269.5,283.5h0M269.8,281.4h0M270,279.3h0M270.3,277.2h0M270.6,275.1h0M270.9,273.1h0M271.2,271h0M271.5,268.9h0M271.8,266.8h0M272.1,264.7h0M272.3,262.6h0M272.6,260.5h0M272.9,258.4h0M273.2,256.3h0M273.5,254.1h0M273.8,251.8h0M274.1,249.6h0M274.3,247.3h0M274.6,245h0M274.9,242.9h0M275.2,240.8h0M275.5,238.9h0M275.8,237h0M276.1,235.3h0M278.3,235.2h0" fill="none" stroke="#1a1ad6" stroke-width="1.7" stroke-linecap="round"/>
<path d="M259.5,290.1 261.9,336.6 265.5,334 269.2,331 274.7,326.3 277.2,323.6 278.4,322.2 279.4,320.7 280.2,319.1 281.1,317.1 283.1,309.7 284.7,301.6 285.7,294.1 286.5,284.6 287.5,269.1 288,256.6 288.4,352.5 316.7,352.5 316.9,350.8 317.5,341.6 318.1,336.3 321.2,319.5 325,295.3 328.1,273.7 333,237.7 333.6,234.6 334.1,232.7 334.4,232.3 334.7,232.6 335,233.4 335.9,237 336.4,238.8 339,245.2 340.2,247.6 341.6,250.1 344.5,254.2 346.2,256.2 348.2,258.2 350.2,260 352.5,261.8 357.6,265.2 363.6,268.5 371.4,272.1 380,275.4 389.1,278.3 398.8,280.9 409.1,283.1 420.3,285 432.3,286.7 445.5,288.1" fill="none" stroke="#ff9860" stroke-width="0.7" stroke-linejoin="round"/>
<path d="M261.9,336.6 267.4,332.5 274.7,326.3 277.4,323.5 278.5,322 279.5,320.4 281.1,317.1 283,310.3 284.4,303.3 285.5,295.4M288.4,352.5 316.7,352.5M333.6,234.6 334.1,232.7 334.4,232.3 334.7,232.6 335.3,234.5M335.9,237 336.7,239.6 338.2,243.2 340.5,248.1 341.9,250.6 343.3,252.7 346.5,256.5 348.5,258.5 350.5,260.2 355.1,263.6 360.5,266.9 366.8,270.1 374.5,273.4 382.8,276.4 391.7,279 401.1,281.4 411.1,283.5 421.7,285.2 433.2,286.8 445.5,288.1" fill="none" stroke="#ff6414" stroke-width="1.95" stroke-linejoin="round" stroke-linecap="round"/>
<path d="M259.5,290.1h0M259.7,295.2h0M260,300.4h0M260.3,305.6h0M260.6,310.8h0M260.8,315.9h0M261.1,321.1h0M261.4,326.3h0M261.7,331.4h0M285.7,294.1h0M285.8,292.8h0M286,291.4h0M286.1,289.8h0M286.3,288.2h0M286.4,286.5h0M286.5,284.6h0M286.7,282.5h0M286.8,280.4h0M287,278.2h0M287.1,276.1h0M287.3,274h0M287.4,271.7h0M287.5,269.1h0M287.7,265.7h0M287.8,261.4h0M288,256.6h0M316.9,350.8h0M317.2,345.8h0M317.5,341.6h0M317.8,338.5h0M318.1,336.3h0M318.4,334.5h0M318.7,332.9h0M318.9,331.4h0M319.2,329.9h0M319.5,328.5h0M319.8,327.2h0M320.1,325.9h0M320.4,324.4h0M320.7,322.9h0M320.9,321.2h0M321.2,319.5h0M321.5,317.8h0M321.8,316h0M322.1,314.2h0M322.4,312.3h0M322.7,310.4h0M323,308.5h0M323.2,306.6h0M323.5,304.7h0M323.8,302.8h0M324.1,300.9h0M324.4,299.1h0M324.7,297.2h0M325,295.3h0M325.3,293.4h0M325.5,291.5h0M325.8,289.6h0M326.1,287.6h0M326.4,285.7h0M326.7,283.7h0M327,281.8h0M327.3,279.8h0M327.5,277.8h0M327.8,275.8h0M328.1,273.7h0M328.4,271.7h0M328.7,269.6h0M329,267.5h0M329.3,265.4h0M329.6,263.3h0M329.8,261.1h0M330.1,259h0M330.4,256.9h0M330.7,254.7h0M331,252.5h0M331.3,250.2h0M331.6,247.9h0M331.9,245.7h0M332.1,243.5h0M332.4,241.5h0M332.7,239.6h0M333,237.7h0M333.3,236h0M335.6,235.7h0" fill="none" stroke="#ff6414" stroke-width="1.75" stroke-linecap="round"/>
</g>
<text x="141" y="374.6" font-size="11.8" text-anchor="start" fill="#222" stroke="#222" textLength="214" lengthAdjust="spacingAndGlyphs">Distance from the left side of the model/m</text>
<text transform="translate(14.9,329.4) rotate(-90)" font-size="11.8" fill="#222" stroke="#222" textLength="97.6" lengthAdjust="spacingAndGlyphs">Vertical stress/MPa</text>
<text x="228.4" y="389.2" font-size="12.4" text-anchor="middle" fill="#222" stroke="#222">(<tspan font-weight="bold">b</tspan>)</text>
<path d="M325.6,306.4h26.6" stroke="#ff5cc4" stroke-width=".8"/>
<path d="M338.9,306.4h0" stroke="#ff33cc" stroke-width="1.6" stroke-linecap="round"/>
<text x="356" y="310.1" font-size="11.3" text-anchor="start" fill="#ff33cc" stroke="#ff33cc" textLength="27.8" lengthAdjust="spacingAndGlyphs">100 m</text>
<path d="M389.3,306.4h26.6" stroke="#a8842f" stroke-width=".8"/>
<path d="M402.6,306.4h0" stroke="#a9741c" stroke-width="1.6" stroke-linecap="round"/>
<text x="420.6" y="310.1" font-size="11.3" text-anchor="start" fill="#b56a2c" stroke="#b56a2c" textLength="27.8" lengthAdjust="spacingAndGlyphs">120 m</text>
<path d="M325.6,321.5h26.6" stroke="#4fb455" stroke-width=".8"/>
<path d="M338.9,321.5h0" stroke="#17a31d" stroke-width="1.6" stroke-linecap="round"/>
<text x="356" y="325.2" font-size="11.3" text-anchor="start" fill="#189a6c" stroke="#189a6c" textLength="27.8" lengthAdjust="spacingAndGlyphs">140 m</text>
<path d="M389.3,321.5h26.6" stroke="#3a3ade" stroke-width=".8"/>
<path d="M402.6,321.5h0" stroke="#1a1ad6" stroke-width="1.6" stroke-linecap="round"/>
<text x="420.6" y="325.2" font-size="11.3" text-anchor="start" fill="#1b74e8" stroke="#1b74e8" textLength="27.8" lengthAdjust="spacingAndGlyphs">160 m</text>
<path d="M325.6,336.4h26.6" stroke="#ff8650" stroke-width=".8"/>
<path d="M338.9,336.4h0" stroke="#ff6414" stroke-width="1.6" stroke-linecap="round"/>
<text x="356" y="340.1" font-size="11.3" text-anchor="start" fill="#ff7a22" stroke="#ff7a22" textLength="27.8" lengthAdjust="spacingAndGlyphs">180 m</text>
</g>
<g>
<path d="M38.5,400V509.5H433.5M38.5,509.5h3.4M38.5,498.6h1.7M38.5,487.6h3.4M38.5,476.6h1.7M38.5,465.7h3.4M38.5,454.8h1.7M38.5,443.8h3.4M38.5,432.9h1.7M38.5,421.9h3.4M38.5,410.9h1.7M38.5,400h3.4M52.1,509.5v-3.4M38.5,509.5v-1.7M79.4,509.5v-3.4M65.7,509.5v-1.7M106.6,509.5v-3.4M93,509.5v-1.7M133.8,509.5v-3.4M120.2,509.5v-1.7M161.1,509.5v-3.4M147.5,509.5v-1.7M188.3,509.5v-3.4M174.7,509.5v-1.7M215.6,509.5v-3.4M201.9,509.5v-1.7M242.8,509.5v-3.4M229.2,509.5v-1.7M270,509.5v-3.4M256.4,509.5v-1.7M297.3,509.5v-3.4M283.7,509.5v-1.7M324.5,509.5v-3.4M310.9,509.5v-1.7M351.8,509.5v-3.4M338.1,509.5v-1.7M379,509.5v-3.4M365.4,509.5v-1.7M406.2,509.5v-3.4M392.6,509.5v-1.7M433.5,509.5v-3.4M419.9,509.5v-1.7" fill="none" stroke="#363636" stroke-width="1"/>
<text x="37.7" y="511" font-size="10.2" text-anchor="end" fill="#222" stroke="#222" textLength="5" lengthAdjust="spacingAndGlyphs">0</text>
<text x="37.7" y="489.1" font-size="10.2" text-anchor="end" fill="#222" stroke="#222" textLength="5" lengthAdjust="spacingAndGlyphs">5</text>
<text x="37.7" y="467.2" font-size="10.2" text-anchor="end" fill="#222" stroke="#222" textLength="10" lengthAdjust="spacingAndGlyphs">10</text>
<text x="37.7" y="445.3" font-size="10.2" text-anchor="end" fill="#222" stroke="#222" textLength="10" lengthAdjust="spacingAndGlyphs">15</text>
<text x="37.7" y="423.4" font-size="10.2" text-anchor="end" fill="#222" stroke="#222" textLength="10" lengthAdjust="spacingAndGlyphs">20</text>
<text x="37.7" y="401.5" font-size="10.2" text-anchor="end" fill="#222" stroke="#222" textLength="10" lengthAdjust="spacingAndGlyphs">25</text>
<text x="50.5" y="517.3" font-size="10.2" text-anchor="middle" fill="#222" stroke="#222" textLength="15" lengthAdjust="spacingAndGlyphs">170</text>
<text x="77.8" y="517.3" font-size="10.2" text-anchor="middle" fill="#222" stroke="#222" textLength="15" lengthAdjust="spacingAndGlyphs">180</text>
<text x="105" y="517.3" font-size="10.2" text-anchor="middle" fill="#222" stroke="#222" textLength="15" lengthAdjust="spacingAndGlyphs">190</text>
<text x="132.2" y="517.3" font-size="10.2" text-anchor="middle" fill="#222" stroke="#222" textLength="15" lengthAdjust="spacingAndGlyphs">200</text>
<text x="159.5" y="517.3" font-size="10.2" text-anchor="middle" fill="#222" stroke="#222" textLength="15" lengthAdjust="spacingAndGlyphs">210</text>
<text x="186.7" y="517.3" font-size="10.2" text-anchor="middle" fill="#222" stroke="#222" textLength="15" lengthAdjust="spacingAndGlyphs">220</text>
<text x="214" y="517.3" font-size="10.2" text-anchor="middle" fill="#222" stroke="#222" textLength="15" lengthAdjust="spacingAndGlyphs">230</text>
<text x="241.2" y="517.3" font-size="10.2" text-anchor="middle" fill="#222" stroke="#222" textLength="15" lengthAdjust="spacingAndGlyphs">240</text>
<text x="268.4" y="517.3" font-size="10.2" text-anchor="middle" fill="#222" stroke="#222" textLength="15" lengthAdjust="spacingAndGlyphs">250</text>
<text x="295.7" y="517.3" font-size="10.2" text-anchor="middle" fill="#222" stroke="#222" textLength="15" lengthAdjust="spacingAndGlyphs">260</text>
<text x="322.9" y="517.3" font-size="10.2" text-anchor="middle" fill="#222" stroke="#222" textLength="15" lengthAdjust="spacingAndGlyphs">270</text>
<text x="350.2" y="517.3" font-size="10.2" text-anchor="middle" fill="#222" stroke="#222" textLength="15" lengthAdjust="spacingAndGlyphs">280</text>
<text x="377.4" y="517.3" font-size="10.2" text-anchor="middle" fill="#222" stroke="#222" textLength="15" lengthAdjust="spacingAndGlyphs">290</text>
<text x="404.6" y="517.3" font-size="10.2" text-anchor="middle" fill="#222" stroke="#222" textLength="15" lengthAdjust="spacingAndGlyphs">300</text>
<text x="431.9" y="517.3" font-size="10.2" text-anchor="middle" fill="#222" stroke="#222" textLength="15" lengthAdjust="spacingAndGlyphs">310</text>
<g clip-path="url(#cc)">
<path d="M38.5,453 40.5,503.4 42.7,502.4 44.9,501 46.9,499.5 49.1,497.6 50.6,496.1 51.8,494.5 53.2,492.5 54.4,490.3 55.5,487.9 56.3,485.8 57.7,481.1 58.8,475.5 60.4,464 61.9,449.8 63.3,433.7 64.1,421.5 65.1,403 65.5,400 65.5,509.5 93,509.5 92.8,502 95.5,481.4 97.7,461.4 98.5,454.8 100.1,444.8 101.5,438.7 102.6,435.2 103.1,434 103.4,433.7 103.7,433.7 104.2,434 107.2,436.8 107.7,436.9 108.3,436.9 109.4,436.5 110.7,435.8 112.9,433.2 114.3,431.8 115.1,431.3 115.4,431.3 115.9,431.9 117.3,435.4 118.9,443 120.5,453.3 121.4,457.5 122.2,459.8 123.3,461.4 124.4,462.4 125.2,462.8 126.8,462.9 128.7,462.7 130.9,462.2 132,461.6 133.1,460.7 135,458.6 136.9,456 138,453.7 141.2,445.8 143.1,442 143.7,441.3 144,441.3 144.2,441.4 144.8,442.4 145.6,445 146.7,451.7 148,462 148.9,465.5 149.7,468 150.2,469 151.3,470.4 151.9,470.9 152.4,471.1 153,471.2 153.8,471 155.4,470 158.7,467.2 160.8,464.9 162.8,462.4 164.9,459.1 165.8,457.6 168.5,451.8 169.8,449.5 170.4,449.1 170.9,449.3 171.5,450.1 172.3,451.7 172.6,452.6 176.4,467.4 177.2,470.1 177.7,471.5 178.6,472.7 179.6,473.8 181,474.5 182.1,474.8 183.2,474.7 184.5,473.7 185.9,472.2 188.1,469.2 189.4,466.8 192.4,460.3 195.2,454.8 196.5,452.8 197.3,452.1 197.9,452.3 199,454.1 199.5,455.2 200.3,457.7 201.4,462 203.3,472 204.2,474.8 205,476.7 205.5,477.6 206.3,478.2 207.2,478.5 208.8,478.3 210.4,477.5 212.6,475.8 214.8,473.7 215.6,472.4 216.7,470.3 222.7,456.7 223.2,455.8 223.8,455.2 224.3,454.7 224.6,454.7 225.1,455.2 226.2,457 227,459 227.8,461.5 228.7,464.9 230.6,474.4 231.4,477.2 232.5,479.3 233.3,480.4 234.4,481.1 235.7,481.5 236.6,481.6 237.4,481.4 239,480.7 241.2,479.1 243.4,477 245,474.4 248.3,467.5 250.5,463.6 251.5,462 252.1,461.5 252.6,461.2 252.9,461.4 253.5,462.3 254.8,465.9 256.2,471.1 258.1,480 258.9,482.8 259.7,484.3 260.5,485.3 261.1,485.8 262.4,486.2 263.3,486.3 264.3,486.3 266.3,485.8 268.7,484.6 270.1,483.8 270.6,483.2 271.7,481.1 274.7,472.9 276.6,468.7 277.7,466.8 278.5,465.9 279.1,465.5 279.3,465.6 279.9,466.5 281,469.2 284.8,484.1 286.1,487.8 287,489.4 288,490.5 289.1,491.1 294.6,491.1 295.4,490.6 296.2,489.9 297.3,488.5 298.4,486.8 301.1,481.9 303.3,475.9 304.1,473.9 305.5,472 306,471.6 306.3,471.7 306.6,471.9 307.1,472.8 308.2,475.6 309.6,481.4 312.3,495.1 312.8,496.9 314.5,500.7 315.8,503.1 316.6,504.1 317.2,504.5 319.1,505.5 320.7,506.2 322.4,506.6 324,506.9 326.2,506.9 328.9,506.6 332.2,505.9 333.3,505.3 334.9,503.8 336.8,501.3 338.4,498.8 339.8,495.9 341.7,490.7 343.3,485.4 349.3,459.7 351.2,450.3 352.9,438.7 354.2,432.2 355,430 355.9,428.9 356.7,428.2 357.2,428 359.9,428.1 360.8,428.4 362.7,430 364.8,432.6 366.2,434 376.3,442.9 378.2,444.2 380.1,445.3 382.8,446.5 385.8,447.7 391.5,449.7 396.7,451.3 402.2,452.7 408.2,453.9 412.5,454.7 422,455.9 428,456.4 433.5,456.7" fill="none" stroke="#ff74da" stroke-width="0.7" stroke-linejoin="round"/>
<path d="M40.5,503.4 42.4,502.5 44.2,501.5 46.1,500.1 47.9,498.7 49.5,497.2 50.9,495.7 53.2,492.5 55.2,488.6 56.9,484.2 58.1,479.2 59.2,472.9M65.5,509.5 93,509.5M102,436.9 102.8,434.5 103.4,433.7 103.7,433.7 104.2,434 107.2,436.8 108,436.9 109.4,436.5 110.7,435.8 112.9,433.2 114.3,431.8 115.1,431.3 115.4,431.3 115.9,431.9 117.3,435.4M121.6,458.5 122.2,459.8 123,461.1 124.1,462.2 125.2,462.8 126.3,462.9 128.4,462.7 130.6,462.3 131.7,461.8 132.8,461 133.9,459.9 135.8,457.5 136.9,456 138.2,453.1 141,446.3 142.9,442.5 143.4,441.6 144,441.3 144.2,441.4 144.8,442.4 145.3,443.9M149.1,466.5 149.7,468 150.2,469 151,470.1 151.9,470.9 152.4,471.1 153,471.2 153.8,471 154.6,470.6 155.9,469.6 158.9,467 160.6,465.2 162.2,463.2 165.2,458.6 168.2,452.3 169.6,449.9 170.1,449.2 170.4,449.1 170.7,449.1 171.2,449.7 172,451.1 172.6,452.6M176.9,469.3 177.5,470.8 178,471.9 178.8,473 179.6,473.8 180.5,474.3 181.8,474.8 182.6,474.9 183.5,474.6 184.3,474 185.4,472.8 188.4,468.8 189.7,466.2 194.9,455.3 195.7,453.9 196.8,452.5 197.3,452.1 197.6,452.1 198.2,452.6 199.3,454.6 200.1,456.8M203.9,474.1 204.7,476.2 205.2,477.2 206.1,478 207.2,478.5 208.5,478.4 210.1,477.6 211.8,476.5 214,474.6 215,473.3 216.4,470.8 222.7,456.7 223.2,455.8 224.3,454.7 224.6,454.7 225.1,455.2 226.2,457 227,459 227.8,461.5M231.1,476.5 232.2,478.9 233,480.1 233.6,480.6 234.9,481.3 236,481.6 237.1,481.5 238.2,481.1 239.6,480.3 240.9,479.3 242.8,477.6 243.6,476.7 245.3,473.8 249.1,465.9 251,462.7 252.1,461.5 252.6,461.2 253.2,461.8 254.3,464.3 254.8,465.9M258.6,482 259.2,483.3 260.3,485 261.1,485.8 261.9,486.1 263.3,486.3 264.9,486.2 266.5,485.7 268.4,484.8 270.3,483.5 271.2,482.3 272.2,479.7 275,472.3 276.9,468.2 277.7,466.8 278.8,465.6 279.1,465.5 279.3,465.6 279.9,466.5 281,469.2M284.8,484.1 285.9,487.1 286.7,489 287.2,489.8 288.3,490.7 288.9,491 289.4,491.1 294,491.1 294.8,491 295.9,490.2 297,488.9 298.4,486.8 300.6,483 301.4,481.3 303.8,474.5 304.4,473.5 305.2,472.3 305.7,471.7 306,471.6 306.3,471.7 306.6,471.9 307.1,472.8 307.9,474.7M312.6,496.1 313.9,499.5 315.5,502.7 316.9,504.3 318.5,505.2 321.5,506.4 323.2,506.8 324.5,506.9 328.1,506.7 332.2,505.9 333.3,505.3 334.6,504.1 336.2,502.1 338.2,499.3 339.2,497.1 340.3,494.5 342.8,487.3M354.5,431.3 354.8,430.5 355.3,429.6 356.1,428.6 356.7,428.2 357.2,428 358,428 359.9,428.1 360.5,428.2 362.7,430 365.1,432.9 366.5,434.2 374.7,441.5 377.4,443.7 379.8,445.1 383.1,446.7 386.6,448 392.1,449.9 400,452.2 405.7,453.5 410.3,454.3 423.4,456 428.6,456.5 433.5,456.7" fill="none" stroke="#ff33cc" stroke-width="1.5" stroke-linejoin="round" stroke-linecap="round"/>
<path d="M38.5,453h0M38.8,460.2h0M39.1,467.4h0M39.4,474.6h0M39.6,481.8h0M39.9,489h0M40.2,496.2h0M59.3,472h0M59.5,471h0M59.6,470.1h0M59.7,469.1h0M59.9,468.2h0M60,467.2h0M60.1,466.2h0M60.3,465.1h0M60.4,464h0M60.6,462.9h0M60.7,461.7h0M60.8,460.5h0M61,459.2h0M61.1,457.9h0M61.2,456.6h0M61.4,455.3h0M61.5,453.9h0M61.6,452.6h0M61.8,451.2h0M61.9,449.8h0M62.1,448.3h0M62.2,446.8h0M62.3,445.2h0M62.5,443.6h0M62.6,441.9h0M62.7,440.3h0M62.9,438.6h0M63,437h0M63.1,435.3h0M63.3,433.7h0M63.4,431.9h0M63.6,430.1h0M63.7,428.1h0M63.8,426h0M64,423.8h0M64.1,421.5h0M64.2,419.1h0M64.4,416.7h0M64.5,414.1h0M64.6,411.5h0M64.8,408.8h0M64.9,405.9h0M65.1,403h0M65.2,400h0M92.8,502h0M93,500h0M93.3,498.1h0M93.6,496.1h0M93.8,494.1h0M94.1,492.1h0M94.4,490h0M94.7,487.9h0M94.9,485.8h0M95.2,483.6h0M95.5,481.4h0M95.8,479h0M96,476.6h0M96.3,474.1h0M96.6,471.5h0M96.8,468.9h0M97.1,466.3h0M97.4,463.8h0M97.7,461.4h0M97.9,459h0M98.2,456.9h0M98.5,454.8h0M98.8,453h0M99,451.3h0M99.3,449.6h0M99.6,447.9h0M99.8,446.3h0M100.1,444.8h0M100.4,443.4h0M100.7,442h0M100.9,440.8h0M101.2,439.7h0M101.5,438.7h0M101.7,437.8h0M117.5,436.5h0M117.8,437.7h0M118.1,439h0M118.4,440.3h0M118.6,441.6h0M118.9,443h0M119.2,444.6h0M119.5,446.3h0M119.7,448.1h0M120,449.8h0M120.3,451.6h0M120.5,453.3h0M120.8,454.8h0M121.1,456.3h0M121.4,457.5h0M145.6,445h0M145.9,446.4h0M146.1,448.1h0M146.4,449.9h0M146.7,451.7h0M147,453.6h0M147.2,455.8h0M147.5,458h0M147.8,460.1h0M148,462h0M148.3,463.4h0M148.6,464.5h0M148.9,465.5h0M172.8,453.5h0M173.1,454.6h0M173.4,455.7h0M173.6,456.7h0M173.9,457.6h0M174.2,458.7h0M174.5,459.7h0M174.7,460.8h0M175,462h0M175.3,463.1h0M175.6,464.2h0M175.8,465.3h0M176.1,466.4h0M176.4,467.4h0M176.6,468.4h0M200.3,457.7h0M200.6,458.6h0M200.9,459.6h0M201.2,460.8h0M201.4,462h0M201.7,463.4h0M202,464.9h0M202.2,466.4h0M202.5,467.9h0M202.8,469.4h0M203.1,470.7h0M203.3,472h0M203.6,473.1h0M228.1,462.5h0M228.4,463.6h0M228.7,464.9h0M228.9,466.2h0M229.2,467.6h0M229.5,469h0M229.8,470.4h0M230,471.8h0M230.3,473.1h0M230.6,474.4h0M230.8,475.5h0M255.1,466.9h0M255.4,467.9h0M255.6,468.9h0M255.9,470h0M256.2,471.1h0M256.4,472.3h0M256.7,473.5h0M257,474.8h0M257.3,476.2h0M257.5,477.5h0M257.8,478.8h0M258.1,480h0M258.4,481h0M281.2,470.1h0M281.5,471.1h0M281.8,472.2h0M282,473.2h0M282.3,474.2h0M282.6,475.3h0M282.9,476.5h0M283.1,477.6h0M283.4,478.8h0M283.7,479.9h0M284,481.1h0M284.2,482.2h0M284.5,483.2h0M308.2,475.6h0M308.5,476.7h0M308.7,477.8h0M309,479h0M309.3,480.2h0M309.6,481.4h0M309.8,482.7h0M310.1,484.1h0M310.4,485.6h0M310.6,487.1h0M310.9,488.5h0M311.2,490h0M311.5,491.4h0M311.7,492.7h0M312,493.9h0M312.3,495.1h0M343.1,486.4h0M343.3,485.4h0M343.6,484.4h0M343.9,483.3h0M344.1,482.2h0M344.4,481h0M344.7,479.9h0M345,478.7h0M345.2,477.5h0M345.5,476.2h0M345.8,475h0M346.1,473.8h0M346.3,472.5h0M346.6,471.3h0M346.9,470.1h0M347.1,468.9h0M347.4,467.8h0M347.7,466.6h0M348,465.5h0M348.2,464.3h0M348.5,463.2h0M348.8,462h0M349,460.9h0M349.3,459.7h0M349.6,458.5h0M349.9,457.2h0M350.1,455.9h0M350.4,454.6h0M350.7,453.2h0M351,451.8h0M351.2,450.3h0M351.5,448.6h0M351.8,446.7h0M352,444.7h0M352.3,442.6h0M352.6,440.5h0M352.9,438.7h0M353.1,437.2h0M353.4,435.8h0M353.7,434.5h0M354,433.3h0M354.2,432.2h0" fill="none" stroke="#ff33cc" stroke-width="1.6" stroke-linecap="round"/>
<path d="M93.5,442.5 93.5,459.9 94.5,468.6 94.5,494.7 95.1,503.4 97,502.5 98.8,501.5 102.3,498.8 104.1,497.2 105.5,495.7 107.8,492.5 109,490.3 110.1,488 111.1,485.5 111.9,482.8 113.3,476.4 114.9,465.2 116.5,449.9 118.2,430.3 119.7,403.4 119.5,400.4 119.5,509.5 147.6,509.5 147.6,502 152.5,462.2 154.2,451.1 155.5,443.3 157.4,434.7 158,433.5 158.3,433.5 158.8,433.7 161.8,436.5 162.3,436.8 162.9,436.9 164,436.7 165.6,436 167.3,434.2 167.8,433.8 168.6,433.6 169.4,433.5 170,434 170.8,435.6 171.3,437.2 174.6,453.9 175.7,458.5 176.8,461.2 177.6,462.8 179,464.3 180.1,465.1 182.2,465.4 184.7,465.5 185.2,465.4 186.1,464.8 187.4,462.9 190.7,457.6 194.2,450.9 196.4,447.1 197,446.4 197.5,446.1 198,445.8 198.6,445.9 199.1,446.7 200.2,448.9 201.3,452.7 201.9,455.4 203.5,465.4 204.3,468.7 205.4,471.7 206.2,472.7 207,473.3 208.4,473.2 210,472.4 211.9,471 214.4,468.7 216,466.4 219.8,459.1 222.6,454.5 223.1,453.8 223.7,453.4 225,453 225.3,453.1 225.8,453.8 226.7,455.5 227.2,457.1 228.8,463.2 230.7,471.2 231.8,474.8 232.7,476.6 233.5,478 234,478.5 235.4,479.1 236.2,479.2 237,479.1 238.6,478.6 240.6,477.3 243,475.3 243.8,474.2 244.6,472.6 247.9,465 249,462.8 250.9,460 251.5,459.5 252.5,459 252.8,459.1 253.1,459.4 253.6,460.3 254.5,462.1 255.3,464.7 256.4,468.8 258,477.1 258.8,480.3 259.6,482 260.7,483.4 261.3,483.7 262.9,484.1 264,484.2 265.1,484 267.5,483.1 270.3,481.4 270.8,480.7 271.6,479.1 274.6,471.2 276.3,468 277.6,465.9 278.7,465 279.2,464.9 279.8,465.6 280.9,468.1 284.4,481.2 286.3,486.8 286.9,487.9 287.7,489 288.5,489.8 289.3,490.2 294.5,490.2 295.3,489.8 296.4,488.8 298,486.5 300.8,481.8 304,473.6 305.4,471.6 306,471.2 306.2,471.2 306.5,471.4 307,472.2 308.1,474.9 309.5,480.6 312.2,493.5 313.3,496.9 315.2,501.4 316.3,503.2 316.9,503.8 317.4,504.2 320.7,505.6 322.3,506 323.9,506.3 326.1,506.3 328.8,506 332.1,505.2 333.2,504.7 334.8,503.3 336.7,500.9 338.4,498.4 339.7,495.6 341.6,490.4 343.3,485.2 349.6,458.5 351.2,450.5 352.8,438.7 354.2,432.1 355,429.8 355.8,428.7 356.6,428 357.2,427.8 359.9,427.9 360.7,428.1 362.6,429.7 365.1,432.7 366.2,433.7 376.3,442.7 378.2,444 380.1,445.1 382.8,446.4 385.8,447.6 391.5,449.6 396.7,451.1 402.1,452.5 408.1,453.8 412.5,454.5 422,455.7 428,456.3 433.5,456.6" fill="none" stroke="#c29c58" stroke-width="0.7" stroke-linejoin="round"/>
<path d="M95.1,503.4 96.9,502.6 98.7,501.6 102.1,499.1 105.1,496.2 106.2,494.9 107.4,493.1 109.6,489.2 111.2,485.1 112.4,480.6 113.5,474.8M120.1,509.5 147.6,509.5M157.4,434.7 158,433.5 158.5,433.6 161.8,436.5 162.6,436.9 163.2,436.9 164.3,436.6 165.6,436 167.5,434 168.6,433.6 169.4,433.5 169.7,433.6 170.2,434.4 171.1,436.3M175.7,458.5 176.5,460.6 177.3,462.3 178.2,463.5 179.5,464.8 180.1,465.1 181.7,465.3 183.6,465.5 185,465.5 185.5,465.2 186.1,464.8 187.4,462.9 190.7,457.6 194.5,450.4 196.4,447.1 197,446.4 198,445.8 198.6,445.9 199.4,447.2 200.5,449.7M204.6,469.6 205.4,471.7 206.2,472.7 206.8,473.2 207.3,473.3 208.1,473.2 208.9,473 210,472.4 212.8,470.3 214.4,468.7 215.2,467.7 216.6,465.4 220.1,458.6 222.3,454.9 223.1,453.8 223.7,453.4 224.5,453.1 225,453 225.3,453.1 225.8,453.8 226.9,456.2M231.6,474 232.9,477.1 233.5,478 234,478.5 235.1,479 236.2,479.2 237.3,479.1 238.6,478.6 240,477.7 241.4,476.7 243,475.3 243.6,474.6 244.9,472.1 248.5,463.8 250.1,461.1 251.2,459.7 252.3,459.1 252.8,459.1 253.6,460.3 254.7,462.9M258.8,480.3 259.4,481.5 260.4,483.1 261,483.6 262.1,484 263.4,484.2 264.8,484.1 266.4,483.6 268.1,482.8 270.3,481.4 271.1,480.3 272.2,477.8 274.9,470.6 276.5,467.5 277.6,465.9 278.7,465 279.2,464.9 279.8,465.6 280.9,468.1M285,483 286.1,486.1 286.9,487.9 287.4,488.7 288.5,489.8 289.3,490.2 294.2,490.2 294.8,490.1 295.9,489.4 297.2,487.7 300.8,481.8 301.6,480 303.8,474.2 304.3,473.1 305.4,471.6 306,471.2 306.2,471.2 306.5,471.4 307,472.2 307.9,474.1M312.8,495.4 314.1,499 315.2,501.4 316.3,503.2 317.1,504 320.1,505.4 323.1,506.2 324.5,506.3 326.1,506.3 329.7,505.8 332.1,505.2 333.2,504.7 334.6,503.6 336.2,501.7 337.8,499.3 338.9,497.4 340.3,494.2 341.9,489.6M354.5,431.2 355,429.8 355.8,428.7 356.6,428 357.5,427.8 359.9,427.9 360.5,428 361.3,428.5 362.6,429.7 365.1,432.7 366.4,434 374.6,441.3 377.3,443.5 379.8,444.9 383.1,446.5 386.9,448 392.3,449.8 400.2,452.1 406,453.4 410.6,454.2 423.4,455.9 428.6,456.3 433.5,456.6" fill="none" stroke="#a9741c" stroke-width="1.4" stroke-linejoin="round" stroke-linecap="round"/>
<path d="M93.1,442.5h0M93.4,451.2h0M93.7,459.9h0M94,468.6h0M94.3,477.3h0M94.5,486h0M94.8,494.7h0M113.7,473.9h0M113.8,473h0M113.9,472.1h0M114.1,471.1h0M114.2,470.2h0M114.4,469.3h0M114.5,468.3h0M114.6,467.3h0M114.8,466.3h0M114.9,465.2h0M115,464.1h0M115.2,463h0M115.3,461.9h0M115.4,460.6h0M115.6,459.4h0M115.7,458.1h0M115.9,456.8h0M116,455.4h0M116.1,454.1h0M116.3,452.7h0M116.4,451.4h0M116.5,449.9h0M116.7,448.5h0M116.8,447h0M116.9,445.4h0M117.1,443.8h0M117.2,442.2h0M117.4,440.5h0M117.5,438.8h0M117.6,437.2h0M117.8,435.6h0M117.9,433.9h0M118,432.2h0M118.2,430.3h0M118.3,428.4h0M118.4,426.3h0M118.6,424.1h0M118.7,421.8h0M118.9,419.5h0M119,417h0M119.1,414.5h0M119.3,411.9h0M119.4,409.2h0M119.5,406.3h0M119.7,403.4h0M119.8,400.4h0M147.6,502h0M147.9,499.8h0M148.2,497.6h0M148.4,495.4h0M148.7,493.2h0M149,491h0M149.3,488.8h0M149.5,486.6h0M149.8,484.3h0M150.1,482.1h0M150.4,479.8h0M150.6,477.5h0M150.9,475.2h0M151.2,472.9h0M151.4,470.6h0M151.7,468.4h0M152,466.3h0M152.3,464.2h0M152.5,462.2h0M152.8,460.3h0M153.1,458.4h0M153.4,456.6h0M153.6,454.7h0M153.9,452.9h0M154.2,451.1h0M154.4,449.4h0M154.7,447.8h0M155,446.2h0M155.3,444.7h0M155.5,443.3h0M155.8,441.9h0M156.1,440.7h0M156.4,439.4h0M156.6,438.1h0M156.9,436.8h0M157.2,435.7h0M171.3,437.2h0M171.6,438.4h0M171.9,439.7h0M172.2,441.2h0M172.4,442.6h0M172.7,443.8h0M173,445.2h0M173.2,446.6h0M173.5,448h0M173.8,449.5h0M174.1,451h0M174.3,452.5h0M174.6,453.9h0M174.9,455.2h0M175.2,456.4h0M175.4,457.5h0M200.8,450.6h0M201,451.6h0M201.3,452.7h0M201.6,453.9h0M201.9,455.4h0M202.1,457h0M202.4,458.7h0M202.7,460.5h0M202.9,462.2h0M203.2,463.9h0M203.5,465.4h0M203.8,466.8h0M204,467.8h0M204.3,468.7h0M227.2,457.1h0M227.5,458.1h0M227.7,459.1h0M228,460.1h0M228.3,461.2h0M228.6,462.2h0M228.8,463.2h0M229.1,464.3h0M229.4,465.5h0M229.7,466.7h0M229.9,467.8h0M230.2,469h0M230.5,470.1h0M230.7,471.2h0M231,472.2h0M231.3,473.2h0M255,463.7h0M255.3,464.7h0M255.5,465.6h0M255.8,466.6h0M256.1,467.6h0M256.4,468.8h0M256.6,470.1h0M256.9,471.5h0M257.2,473h0M257.4,474.4h0M257.7,475.8h0M258,477.1h0M258.3,478.4h0M258.5,479.4h0M281.2,469h0M281.4,470h0M281.7,471h0M282,472.1h0M282.2,473.1h0M282.5,474.1h0M282.8,475.1h0M283.1,476.1h0M283.3,477.2h0M283.6,478.2h0M283.9,479.3h0M284.2,480.3h0M284.4,481.2h0M284.7,482.1h0M308.1,474.9h0M308.4,476h0M308.7,477.1h0M308.9,478.3h0M309.2,479.4h0M309.5,480.6h0M309.8,481.9h0M310,483.2h0M310.3,484.5h0M310.6,485.9h0M310.9,487.3h0M311.1,488.6h0M311.4,489.9h0M311.7,491.2h0M311.9,492.4h0M312.2,493.5h0M312.5,494.5h0M342.2,488.8h0M342.5,487.9h0M342.7,487.1h0M343,486.1h0M343.3,485.2h0M343.6,484.1h0M343.8,483.1h0M344.1,481.9h0M344.4,480.8h0M344.6,479.6h0M344.9,478.4h0M345.2,477.2h0M345.5,476h0M345.7,474.7h0M346,473.5h0M346.3,472.3h0M346.6,471.1h0M346.8,469.9h0M347.1,468.7h0M347.4,467.5h0M347.6,466.4h0M347.9,465.3h0M348.2,464.2h0M348.5,463.1h0M348.7,462h0M349,460.8h0M349.3,459.7h0M349.6,458.5h0M349.8,457.3h0M350.1,456h0M350.4,454.7h0M350.6,453.4h0M350.9,452h0M351.2,450.5h0M351.5,448.9h0M351.7,447h0M352,444.9h0M352.3,442.8h0M352.5,440.7h0M352.8,438.7h0M353.1,437.2h0M353.4,435.8h0M353.6,434.5h0M353.9,433.3h0M354.2,432.1h0" fill="none" stroke="#a9741c" stroke-width="1.6" stroke-linecap="round"/>
<path d="M148.5,446.9 148.5,471.2 149.5,479.4 149.5,495.6 149.9,503.7 151.8,502.9 153.7,501.8 155.6,500.5 157.5,499 160.4,496.3 161.6,494.7 162.8,492.9 164.1,490.7 165.1,488.4 166,486.2 166.8,483.6 168,478 169.6,467.3 171.3,452.6 172.8,435.7 173.9,418.7 174.5,405.3 174.5,509.5 202.3,509.5 202.1,503.7 203.2,496.2 204.5,481.7 205.6,471.9 208.6,449 209.7,442.4 210.5,439.4 211.1,437.9 211.6,436.9 212.5,436.1 213,435.8 213.5,436.1 214.9,437.5 216.3,438.6 216.8,438.9 217.4,439.1 218.7,439 220.4,438.6 223.4,436.1 223.9,435.8 224.2,435.9 224.4,436.2 225.5,438.3 226.6,442.4 227.2,445.2 229.1,457.6 230.2,461.8 231.3,465 232.1,466.8 233.2,468.3 233.7,468.9 234.3,469.2 236.4,469.4 238.1,469 240,467.9 243,465.4 244.6,463.2 248.4,456.1 250.3,453.2 250.9,452.6 251.4,452.3 252,452.1 252.2,452.1 252.8,452.7 253.6,454.1 254.7,456.9 255.8,460.9 257.7,470.7 258.8,474.2 259.9,476.7 261,478.1 262.1,478.9 264,478.9 266.7,478.6 267.5,478.3 268.3,477.7 270.5,475.4 271.6,473.5 274.6,466.8 276.8,462.7 277.3,461.9 277.9,461.3 278.7,460.8 279.2,460.8 279.5,461 280,461.9 281.1,464.6 284.4,478.8 285.8,483 286.6,484.8 287.1,485.7 288.5,487.2 289,487.6 289.6,487.7 294.5,487.6 295.3,487.2 296.4,486.3 298,484.1 301,479.2 303.5,473.1 304.3,471.4 305.4,469.9 305.9,469.5 306.2,469.5 306.5,469.6 307,470.5 308.1,473.1 309.5,478.9 312.2,492.9 313,495.7 314.7,499.5 316,501.8 317.1,502.9 318.7,503.7 320.6,504.5 322.3,504.9 323.9,505.2 326.1,505.2 328.6,504.9 332.1,504.1 333.2,503.7 334.8,502.3 336.5,500.4 338.1,498.1 339.5,495.3 341.9,488.4 343,484.8 343.8,481.6 346.8,468.2 350.6,452.3 351.4,448.2 352.8,439.5 354.2,433.1 355,430.7 356.1,429.3 356.9,428.7 359.9,428.7 360.4,428.8 361,429.1 362.6,430.5 365.1,433.4 366.2,434.5 376.2,443.4 377.9,444.5 379.8,445.6 382.2,446.7 385.2,447.9 391,449.9 396.4,451.5 402.1,452.9 408.1,454.2 412.5,454.9 421.8,456 428,456.6 433.5,456.9" fill="none" stroke="#62c668" stroke-width="0.7" stroke-linejoin="round"/>
<path d="M149.9,503.7 152,502.7 154.2,501.4 156.3,500 158.5,498.2 160,496.7 161.2,495.3 162.6,493.3 163.8,491.2 164.9,489 165.7,487 167.1,482.5 168.1,477.2 169.6,467.3M174.8,509.5 202.3,509.5M210,441.3 210.8,438.6 211.4,437.4 212.2,436.3 212.7,435.9 213,435.8 213.5,436.1 214.9,437.5 216.3,438.6 216.8,438.9 217.4,439.1 218.7,439 220.4,438.6 223.4,436.1 223.9,435.8 224.2,435.9 224.7,436.6 225.3,437.7 226.1,440.1M229.6,459.9 231.3,465 232.1,466.8 232.6,467.6 233.4,468.6 234,469.1 235.1,469.4 236.4,469.4 237.8,469.1 239.2,468.4 241.1,467 243.2,465.1 244.9,462.7 249,455.2 250.3,453.2 251.2,452.4 251.7,452.2 252.2,452.1 252.8,452.7 254.2,455.3 255.2,458.7M258,471.7 258.8,474.2 259.6,476.2 260.1,477.1 261.5,478.6 262.1,478.9 262.6,479 264.8,478.8 267,478.5 267.8,478.1 268.6,477.5 270.2,475.8 270.8,475 271.9,472.9 274.9,466.3 276.8,462.7 277.6,461.5 278.7,460.8 279.2,460.8 279.5,461 280.3,462.5 281.1,464.6M284.7,479.8 285.5,482.3 286.6,484.8 287.1,485.7 288.5,487.2 289.3,487.6 294.5,487.6 295.3,487.2 296.4,486.3 297.5,484.9 298.8,482.8 301,479.2 304,471.9 305.4,469.9 305.9,469.5 306.2,469.5 306.5,469.6 307.3,471 308.1,473.1M312.5,494 313.6,497 315.2,500.5 316.6,502.5 317.7,503.2 320.9,504.6 322.6,505 324.2,505.2 326.1,505.2 328,505 332.4,504.1 333.7,503.3 335.1,502 336.7,500 338.4,497.6 339.2,495.9 340.3,493.2 343,484.8M354.4,432.1 355,430.7 355.8,429.6 356.6,428.9 357.2,428.7 359.9,428.7 360.4,428.8 361.3,429.4 362.6,430.5 365.1,433.4 366.4,434.8 374.6,442 377.3,444.1 379.8,445.6 383.1,447.1 386.9,448.5 392.1,450.2 400.2,452.5 406,453.8 410.6,454.6 423.4,456.2 428.6,456.7 433.5,456.9" fill="none" stroke="#17a31d" stroke-width="1.65" stroke-linejoin="round" stroke-linecap="round"/>
<path d="M147.9,446.9h0M148.2,455h0M148.4,463.1h0M148.7,471.2h0M149,479.4h0M149.3,487.5h0M149.6,495.6h0M169.8,466.2h0M169.9,465.2h0M170.1,464h0M170.2,462.9h0M170.3,461.7h0M170.5,460.4h0M170.6,459.2h0M170.7,457.9h0M170.9,456.6h0M171,455.3h0M171.2,454h0M171.3,452.6h0M171.4,451.3h0M171.6,449.8h0M171.7,448.3h0M171.8,446.8h0M172,445.2h0M172.1,443.6h0M172.2,442h0M172.4,440.5h0M172.5,438.9h0M172.7,437.3h0M172.8,435.7h0M172.9,433.9h0M173.1,432h0M173.2,430h0M173.3,427.9h0M173.5,425.7h0M173.6,423.5h0M173.7,421.1h0M173.9,418.7h0M174,416.2h0M174.2,413.6h0M174.3,410.9h0M174.4,408.1h0M174.6,405.3h0M202.1,503.7h0M202.4,502.2h0M202.6,500.5h0M202.9,498.5h0M203.2,496.2h0M203.5,493.5h0M203.7,490.6h0M204,487.6h0M204.3,484.6h0M204.5,481.7h0M204.8,479h0M205.1,476.6h0M205.4,474.2h0M205.6,471.9h0M205.9,469.6h0M206.2,467.4h0M206.5,465.2h0M206.7,463.1h0M207,461.1h0M207.3,459.1h0M207.5,457.1h0M207.8,455h0M208.1,453h0M208.4,451h0M208.6,449h0M208.9,447.1h0M209.2,445.4h0M209.5,443.8h0M209.7,442.4h0M226.4,441.2h0M226.6,442.4h0M226.9,443.7h0M227.2,445.2h0M227.4,446.9h0M227.7,448.8h0M228,450.7h0M228.3,452.6h0M228.5,454.4h0M228.8,456.1h0M229.1,457.6h0M229.3,458.9h0M255.5,459.7h0M255.8,460.9h0M256.1,462.3h0M256.3,463.7h0M256.6,465.2h0M256.9,466.7h0M257.1,468.1h0M257.4,469.5h0M257.7,470.7h0M281.4,465.7h0M281.7,466.9h0M281.9,468h0M282.2,469.1h0M282.5,470.3h0M282.8,471.5h0M283,472.8h0M283.3,474h0M283.6,475.3h0M283.9,476.5h0M284.1,477.7h0M284.4,478.8h0M308.4,474.1h0M308.7,475.3h0M308.9,476.5h0M309.2,477.6h0M309.5,478.9h0M309.7,480.2h0M310,481.6h0M310.3,483.1h0M310.6,484.6h0M310.8,486.1h0M311.1,487.6h0M311.4,489h0M311.7,490.4h0M311.9,491.7h0M312.2,492.9h0M343.3,483.8h0M343.5,482.8h0M343.8,481.6h0M344.1,480.5h0M344.4,479.3h0M344.6,478.1h0M344.9,476.8h0M345.2,475.6h0M345.5,474.3h0M345.7,473.1h0M346,471.8h0M346.3,470.6h0M346.5,469.4h0M346.8,468.2h0M347.1,467h0M347.4,465.9h0M347.6,464.8h0M347.9,463.7h0M348.2,462.6h0M348.4,461.5h0M348.7,460.4h0M349,459.3h0M349.3,458.2h0M349.5,457.1h0M349.8,455.9h0M350.1,454.8h0M350.4,453.6h0M350.6,452.3h0M350.9,451h0M351.2,449.7h0M351.4,448.2h0M351.7,446.6h0M352,444.8h0M352.3,443h0M352.5,441.2h0M352.8,439.5h0M353.1,438.1h0M353.4,436.8h0M353.6,435.5h0M353.9,434.3h0M354.2,433.1h0" fill="none" stroke="#17a31d" stroke-width="1.6" stroke-linecap="round"/>
<path d="M202.3,450.4 204.3,503.9 206.4,503 208.3,501.9 210.3,500.6 212.3,499.1 215,496.5 216.2,494.9 217.4,493.1 218.5,491.2 219.6,488.8 220.4,486.7 221.3,484.1 222.5,478.6 224,468.9 225.1,459.9 226.3,447.5 227.7,430.8 228.9,409 229.5,406.1 229.5,509.5 256.6,509.5 256.5,489.8 256.8,489 257.4,486.8 258.2,482.5 260.1,466.5 261.7,457.3 263.1,451.7 263.9,449.3 264.7,447.5 265.6,446.5 266.4,446 266.6,446 267.2,446.4 269.1,448.9 271,450.8 271.8,451.2 272.9,451 274.8,449.9 276.7,447.9 277.8,447 278.4,446.9 278.9,447.4 280,449.3 280.5,450.6 281.9,455.1 284.6,469.3 285.7,473.3 287.1,476.9 288.5,479 289.3,479.8 291.7,480.5 294.2,480.7 295.3,480.4 296.4,479.7 298.3,477.6 301,473.9 303.4,468.6 304.3,467.1 305.6,465.3 306.2,465.1 306.4,465.2 307,465.9 308.1,468 309.2,471.4 310,475.4 312.2,489 312.7,491.3 314.1,494.6 315.7,497.5 316.5,498.4 317.4,499.2 319.5,500.7 321.2,501.6 322.8,502.3 324.4,502.6 326.9,502.5 329.6,502.1 332.3,501.5 333.7,500.8 335.6,499 337.8,496.4 338.9,494.6 340.2,491.7 341.9,487.4 343.2,483.2 347.1,467.1 350.3,455.1 351.4,449.5 353.1,436 354.2,430.9 355,428.6 356.1,427.1 356.9,426.6 359.9,426.6 360.4,426.8 361,427.1 362.6,428.6 365.1,431.6 366.1,432.7 374.3,440.3 376.5,442.2 378.4,443.6 380.6,444.8 383.3,446.2 386.6,447.5 392.6,449.8 397.5,451.4 402.9,452.9 408.4,454.2 412.5,454.9 422.3,456.1 428.3,456.7 433.5,456.9" fill="none" stroke="#6262e8" stroke-width="0.7" stroke-linejoin="round"/>
<path d="M204.3,503.9 206.7,502.9 208.8,501.6 211,500.1 213.2,498.3 214.7,496.8 215.9,495.3 217.4,493.1 218.7,490.9 219.8,488.5 220.6,486.3 221.9,481.2 223.3,473.5 224.7,463.6M229.3,509.5 256.8,509.5M256.6,489.8 257.1,488M262.3,454.8 263.4,450.8 264.5,448 265,447.1 265.6,446.5 266.1,446.1 266.6,446 267.5,446.7 268.8,448.6 270.5,450.3 271.3,451 271.8,451.2 272.9,451 274.8,449.9 276.7,447.9 277.8,447 278.4,446.9 278.6,447.1 279.2,447.8 280.3,449.9 281.9,455.1M284.9,470.5 286.5,475.7 287.4,477.4 288.5,479 289,479.6 289.8,480 291.7,480.5 293.6,480.7 294.7,480.6 295.8,480.1 296.9,479.2 298.3,477.6 301,473.9 304,467.6 305.4,465.6 305.9,465.2 306.2,465.1 306.7,465.5 307.8,467.4 308.4,468.7 309.2,471.4M312.4,490.3 313,492.1 313.8,494.1 314.6,495.7 315.7,497.5 317.1,499 320.3,501.2 322.5,502.2 323.6,502.5 324.7,502.6 328.3,502.4 332.3,501.5 333.7,500.8 335.3,499.3 337.8,496.4 338.9,494.6 340.5,491 342.2,486.6 343.2,483.2 344.3,478.9M346.5,469.4 350.1,456.2M353.9,432 354.4,429.9 355,428.6 356.3,426.9 357.2,426.5 360.1,426.7 361,427.1 362.3,428.3 365.1,431.6 366.1,432.7 376.2,442 377.9,443.2 379.8,444.4 382.2,445.7 385.2,447 391.8,449.5 397,451.3 402.4,452.8 408.1,454.1 412.5,454.9 422,456.1 428,456.7 433.5,456.9" fill="none" stroke="#1a1ad6" stroke-width="1.9" stroke-linejoin="round" stroke-linecap="round"/>
<path d="M202.3,450.4h0M202.6,458h0M202.9,465.7h0M203.2,473.3h0M203.5,481h0M203.8,488.6h0M204.1,496.3h0M224.8,462.4h0M224.9,461.1h0M225.1,459.9h0M225.2,458.6h0M225.4,457.4h0M225.5,456.1h0M225.6,454.7h0M225.8,453.4h0M225.9,452h0M226,450.6h0M226.2,449.1h0M226.3,447.5h0M226.5,446h0M226.6,444.4h0M226.7,442.8h0M226.9,441.3h0M227,439.7h0M227.1,438.1h0M227.3,436.5h0M227.4,434.7h0M227.5,432.8h0M227.7,430.8h0M227.8,428.7h0M228,426.6h0M228.1,424.3h0M228.2,422h0M228.4,419.6h0M228.5,417.1h0M228.6,414.5h0M228.8,411.8h0M228.9,409h0M229,406.1h0M257.4,486.8h0M257.6,485.5h0M257.9,484.1h0M258.2,482.5h0M258.5,480.6h0M258.7,478.3h0M259,475.9h0M259.3,473.3h0M259.6,470.8h0M259.8,468.5h0M260.1,466.5h0M260.4,464.8h0M260.6,463.2h0M260.9,461.6h0M261.2,460.1h0M261.5,458.7h0M261.7,457.3h0M262,456h0M282.2,456.2h0M282.5,457.5h0M282.7,458.9h0M283,460.4h0M283.3,462h0M283.5,463.5h0M283.8,465.1h0M284.1,466.6h0M284.4,468h0M284.6,469.3h0M309.4,472.5h0M309.7,473.9h0M310,475.4h0M310.3,477.1h0M310.5,478.8h0M310.8,480.6h0M311.1,482.5h0M311.4,484.2h0M311.6,486h0M311.9,487.6h0M312.2,489h0M344.6,477.7h0M344.9,476.6h0M345.2,475.3h0M345.4,474.1h0M345.7,472.9h0M346,471.7h0M346.2,470.5h0M350.3,455.1h0M350.6,453.8h0M350.9,452.5h0M351.2,451.1h0M351.4,449.5h0M351.7,447.5h0M352,445.1h0M352.2,442.6h0M352.5,440.1h0M352.8,437.8h0M353.1,436h0M353.3,434.6h0M353.6,433.3h0" fill="none" stroke="#1a1ad6" stroke-width="1.7" stroke-linecap="round"/>
<path d="M257,457.8 259,505.7 263,504.3 265.2,503.3 267,502.3 268.5,501.3 269.7,500.2 272.1,497.6 273.3,495.7 274.4,493.7 275.3,491.6 276,489.6 277.2,484.8 278.9,475.6 280.5,462.8 282,447.6 283.3,429.8 283.5,424.9 283.5,422.3 283.5,509.5 311.5,509.5 311.4,491 313.3,485.1 315.2,480.5 316.9,477.4 318.5,475.4 319.1,475 319.6,474.9 320.4,475.5 321.5,477 322.6,479.5 323.7,481.5 326.1,485.1 329.1,488.5 330.2,489.3 331.6,490 332.4,490.2 333.2,490.2 334,489.9 334.9,489.4 336,488.4 337.9,486.3 339.5,483.8 341.4,479.7 343.3,474.6 347.1,460.5 349.8,451 351.2,445.1 352.8,434.4 353.7,430.3 354.5,427 354.7,426.2 355.3,425.2 356.1,424.2 356.7,423.8 357.2,423.7 358.8,423.7 360.2,423.9 360.7,424.2 362.6,425.9 365.1,429 366.5,430.5 374.4,438.1 377.1,440.4 379,441.8 382,443.5 385,444.9 389.9,447 394.8,448.9 398.9,450.3 404.6,451.9 409.5,453.1 414.7,453.9 423.1,454.9 428.6,455.4 433.5,455.6" fill="none" stroke="#ff9860" stroke-width="0.7" stroke-linejoin="round"/>
<path d="M259,505.7 261.7,504.8 264.4,503.7 266.6,502.5 268.5,501.3 270,500 271.6,498.1 273,496.2 274.2,494 275.1,492.2 275.9,490 277.2,484.8 279,474.7 280.4,464M283.9,509.5 311.4,509.5M311.2,492 313.3,485.1 315.5,479.9 316.3,478.3 317.2,477 318.5,475.4 319.3,474.9 319.6,474.9 320.1,475.2 321.2,476.5 322.9,480 324.5,482.8 325.9,484.8 328.3,487.7 330,489.1 332.1,490.2 333,490.2 333.5,490.1 334.3,489.8 335.1,489.2 337,487.2 338.4,485.6 339.8,483.3 341.4,479.7 343,475.5 344.4,470.9 346.8,461.5 349.6,452 350.7,447.6M353.9,429.1 354.7,426.2 355.6,424.9 356.4,424 357.2,423.7 360.2,423.9 361,424.4 362.4,425.7 365.1,429 366.2,430.2 374.4,438.1 376.5,440 378.2,441.2 380.4,442.6 383.1,444 386.1,445.4 392.6,448.1 397.5,449.9 403,451.5 408.4,452.8 412.5,453.6 422.3,454.9 428.3,455.4 433.5,455.6" fill="none" stroke="#ff6414" stroke-width="1.95" stroke-linejoin="round" stroke-linecap="round"/>
<path d="M257,457.8h0M257.2,464.7h0M257.5,471.5h0M257.8,478.3h0M258.1,485.2h0M258.4,492h0M258.7,498.8h0M280.5,462.8h0M280.7,461.5h0M280.8,460.3h0M280.9,458.9h0M281.1,457.6h0M281.2,456.2h0M281.3,454.8h0M281.5,453.4h0M281.6,452h0M281.7,450.6h0M281.9,449.2h0M282,447.6h0M282.2,446h0M282.3,444.2h0M282.4,442.4h0M282.6,440.5h0M282.7,438.5h0M282.8,436.4h0M283,434.3h0M283.1,432.1h0M283.3,429.8h0M283.4,427.4h0M283.5,424.9h0M283.7,422.3h0M350.9,446.4h0M351.2,445.1h0M351.5,443.7h0M351.8,442h0M352,440.1h0M352.3,438.1h0M352.6,436.2h0M352.8,434.4h0M353.1,432.9h0M353.4,431.6h0M353.7,430.3h0" fill="none" stroke="#ff6414" stroke-width="1.75" stroke-linecap="round"/>
</g>
<text x="155.3" y="528.4" font-size="10.4" text-anchor="start" fill="#222" stroke="#222" textLength="179.8" lengthAdjust="spacingAndGlyphs">Distance from the left side of the model/m</text>
<text transform="translate(24.6,495.6) rotate(-90)" font-size="10.2" fill="#222" stroke="#222" textLength="82" lengthAdjust="spacingAndGlyphs">Vertical stress/MPa</text>
<text x="228.4" y="542" font-size="12.4" text-anchor="middle" fill="#222" stroke="#222">(<tspan font-weight="bold">c</tspan>)</text>
<path d="M338,474.4h22.8" stroke="#ff5cc4" stroke-width=".8"/>
<path d="M349.4,474.4h0" stroke="#ff33cc" stroke-width="1.5" stroke-linecap="round"/>
<text x="363.4" y="477.7" font-size="9.8" text-anchor="start" fill="#ff33cc" stroke="#ff33cc" textLength="23.6" lengthAdjust="spacingAndGlyphs">100 m</text>
<path d="M387.6,474.4h22.8" stroke="#a8842f" stroke-width=".8"/>
<path d="M399,474.4h0" stroke="#a9741c" stroke-width="1.5" stroke-linecap="round"/>
<text x="413" y="477.7" font-size="9.8" text-anchor="start" fill="#b56a2c" stroke="#b56a2c" textLength="23.6" lengthAdjust="spacingAndGlyphs">120 m</text>
<path d="M338,487.3h22.8" stroke="#4fb455" stroke-width=".8"/>
<path d="M349.4,487.3h0" stroke="#17a31d" stroke-width="1.5" stroke-linecap="round"/>
<text x="363.4" y="490.6" font-size="9.8" text-anchor="start" fill="#189a6c" stroke="#189a6c" textLength="23.6" lengthAdjust="spacingAndGlyphs">140 m</text>
<path d="M387.6,487.3h22.8" stroke="#3a3ade" stroke-width=".8"/>
<path d="M399,487.3h0" stroke="#1a1ad6" stroke-width="1.5" stroke-linecap="round"/>
<text x="413" y="490.6" font-size="9.8" text-anchor="start" fill="#1b74e8" stroke="#1b74e8" textLength="23.6" lengthAdjust="spacingAndGlyphs">160 m</text>
<path d="M338,500.4h22.8" stroke="#ff8650" stroke-width=".8"/>
<path d="M349.4,500.4h0" stroke="#ff6414" stroke-width="1.5" stroke-linecap="round"/>
<text x="363.4" y="503.7" font-size="9.8" text-anchor="start" fill="#ff7a22" stroke="#ff7a22" textLength="23.6" lengthAdjust="spacingAndGlyphs">180 m</text>
</g>
</svg>
</body></html>
